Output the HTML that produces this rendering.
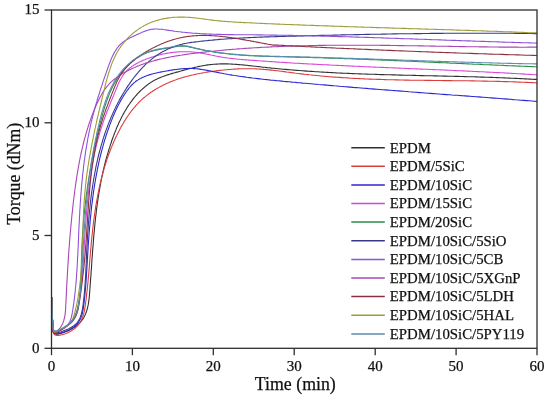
<!DOCTYPE html>
<html lang="en"><head><meta charset="utf-8"><title>Torque vs Time</title>
<style>
html,body{margin:0;padding:0;background:#fff;}
body{width:550px;height:398px;overflow:hidden;}
svg{display:block;}
text{font-family:"Liberation Serif",serif;fill:#111;stroke:#111;stroke-width:0.25px;}
.tk{font-size:15px;}
.lb{font-size:17.8px;}
.lg{font-size:14.8px;}
.ax{stroke:#2e2e2e;stroke-width:1.3;fill:none;}
.c{fill:none;stroke-width:1.1;stroke-linejoin:round;stroke-linecap:round;}
</style></head><body>
<svg width="550" height="398" viewBox="0 0 550 398">
<rect x="0" y="0" width="550" height="398" fill="#fff"/>

<g clip-path="url(#cp)">
<clipPath id="cp"><rect x="51" y="9" width="486" height="340"/></clipPath>
<path class="c" stroke="#303030" d="M51.6 297.0 L52.2 314.0 L52.9 327.1 L52.8 328.5 L52.8 329.7 L52.9 330.4 L52.9 330.8 L53.1 331.6 L53.4 332.3 L53.5 332.6 L53.8 332.9 L54.2 333.4 L54.8 333.7 L54.8 333.7 L55.3 333.9 L55.7 334.0 L56.2 334.1 L56.5 334.1 L56.7 334.1 L57.1 334.1 L57.6 334.0 L58.2 334.0 L58.5 333.9 L58.7 333.9 L59.2 333.8 L59.9 333.6 L60.7 333.4 L60.8 333.4 L61.8 333.1 L62.7 332.8 L63.0 332.7 L63.7 332.5 L64.7 332.1 L65.3 331.8 L65.7 331.7 L66.6 331.3 L67.6 330.9 L67.7 330.9 L68.6 330.4 L69.5 330.0 L69.9 329.8 L70.5 329.5 L71.4 329.0 L72.1 328.6 L72.3 328.5 L73.2 328.0 L74.0 327.4 L74.2 327.3 L74.9 326.9 L75.7 326.3 L76.1 326.0 L76.4 325.8 L77.0 325.3 L77.6 324.8 L78.0 324.5 L78.2 324.3 L78.7 323.8 L79.3 323.3 L79.6 323.0 L79.8 322.8 L80.3 322.3 L80.8 321.7 L81.1 321.3 L81.2 321.2 L81.6 320.7 L82.0 320.2 L82.4 319.7 L82.5 319.6 L82.8 319.2 L83.1 318.6 L83.5 318.1 L83.7 317.7 L83.8 317.5 L84.1 317.0 L84.3 316.5 L84.5 316.1 L84.7 315.8 L84.7 315.8 L84.9 315.4 L85.1 315.0 L85.3 314.6 L85.5 314.2 L85.6 313.8 L85.6 313.8 L85.8 313.4 L86.2 312.3 L86.4 311.7 L86.6 311.1 L87.0 309.9 L87.1 309.6 L87.3 308.7 L87.6 307.5 L87.6 307.4 L87.9 306.2 L88.1 305.2 L88.2 304.9 L88.4 303.6 L88.5 302.9 L88.6 302.3 L88.8 301.0 L88.8 300.6 L89.0 299.7 L89.1 298.3 L89.1 298.3 L89.3 297.0 L89.4 295.9 L89.4 295.6 L89.5 294.3 L89.6 293.5 L89.6 292.9 L89.7 291.6 L89.8 291.1 L89.8 290.0 L89.9 288.7 L90.1 286.4 L90.1 285.9 L90.3 284.0 L90.4 281.9 L90.5 281.6 L90.6 279.2 L90.7 277.9 L90.8 276.9 L91.0 274.5 L91.0 273.8 L91.1 272.1 L91.3 269.8 L91.3 269.8 L91.5 267.4 L91.6 265.8 L91.6 265.0 L91.8 262.7 L91.8 261.8 L91.9 260.3 L92.1 258.0 L92.1 257.8 L92.3 255.6 L92.5 253.3 L92.5 253.2 L92.6 250.9 L92.8 248.6 L93.0 246.4 L93.0 246.2 L93.2 243.9 L93.4 241.6 L93.5 239.6 L93.5 239.2 L93.7 236.9 L93.9 234.6 L94.1 232.8 L94.2 232.2 L94.4 229.9 L94.6 227.6 L94.7 226.0 L94.8 225.3 L95.0 223.0 L95.3 220.6 L95.4 219.3 L95.5 218.3 L95.8 216.0 L96.1 213.7 L96.2 212.6 L96.3 211.4 L96.6 209.1 L96.9 206.8 L97.0 205.9 L97.2 204.5 L97.5 202.2 L97.9 199.9 L98.0 199.2 L98.2 197.7 L98.6 195.4 L98.9 193.5 L98.9 193.1 L99.3 190.8 L99.5 189.8 L99.7 188.5 L100.1 186.3 L100.1 186.1 L100.5 184.0 L100.8 182.5 L100.9 181.7 L101.4 179.5 L101.5 178.8 L101.8 177.2 L102.3 175.1 L102.3 175.0 L102.8 172.7 L103.1 171.5 L103.3 170.5 L103.8 168.2 L103.9 167.8 L104.4 166.0 L104.8 164.2 L104.9 163.7 L105.5 161.5 L105.6 161.0 L106.1 159.2 L106.4 158.2 L106.7 157.0 L107.2 155.4 L107.3 154.8 L108.0 152.7 L108.0 152.6 L108.7 150.3 L108.8 149.9 L109.4 148.1 L109.7 147.2 L110.1 145.9 L110.5 144.4 L110.8 143.7 L111.5 141.7 L111.5 141.5 L112.3 139.3 L112.4 139.0 L113.1 137.0 L113.2 136.8 L113.9 135.1 L113.9 134.8 L114.5 133.3 L114.8 132.6 L115.2 131.6 L115.6 130.5 L115.9 129.9 L116.5 128.3 L116.6 128.1 L117.3 126.4 L117.5 126.1 L118.1 124.7 L118.4 124.0 L118.8 123.0 L119.4 121.8 L119.5 121.5 L120.2 120.2 L120.4 119.7 L120.9 118.8 L121.5 117.6 L121.5 117.4 L122.2 116.1 L122.5 115.5 L122.9 114.7 L123.7 113.4 L123.7 113.4 L124.4 112.1 L124.8 111.4 L125.2 110.8 L126.0 109.4 L126.0 109.4 L126.8 108.0 L127.2 107.4 L127.7 106.6 L128.5 105.4 L128.6 105.3 L129.5 104.0 L129.8 103.5 L130.4 102.6 L131.2 101.6 L131.4 101.3 L132.3 100.1 L132.6 99.7 L133.3 98.8 L134.0 97.9 L134.0 97.9 L134.8 97.0 L135.5 96.2 L135.5 96.1 L136.2 95.3 L137.0 94.5 L137.0 94.4 L137.7 93.6 L138.5 92.8 L138.6 92.7 L139.3 92.0 L140.1 91.2 L140.3 91.0 L140.9 90.4 L141.7 89.7 L142.0 89.4 L142.5 89.0 L143.3 88.2 L143.7 87.9 L144.1 87.5 L144.9 86.8 L145.5 86.4 L145.7 86.2 L146.6 85.5 L147.3 84.9 L147.5 84.8 L148.4 84.1 L149.2 83.5 L149.4 83.4 L150.4 82.8 L151.1 82.3 L151.4 82.1 L152.4 81.5 L153.1 81.0 L153.4 80.9 L154.4 80.3 L155.1 79.9 L155.4 79.8 L156.4 79.2 L157.2 78.9 L157.4 78.8 L158.4 78.3 L159.3 77.9 L159.4 77.9 L160.4 77.4 L161.4 77.0 L161.4 77.0 L162.4 76.7 L163.4 76.3 L163.6 76.2 L164.5 75.9 L165.5 75.6 L165.8 75.5 L166.5 75.2 L167.5 74.9 L168.0 74.8 L168.6 74.6 L169.6 74.3 L170.2 74.1 L170.7 73.9 L171.7 73.6 L172.5 73.4 L172.7 73.3 L173.8 73.0 L174.7 72.8 L174.8 72.7 L175.8 72.4 L176.8 72.1 L177.0 72.1 L177.9 71.9 L178.9 71.6 L179.2 71.5 L179.9 71.3 L180.9 71.0 L181.5 70.8 L182.0 70.7 L183.0 70.4 L183.8 70.2 L184.0 70.1 L185.0 69.8 L186.0 69.6 L186.0 69.6 L187.1 69.3 L188.1 69.0 L188.3 69.0 L189.1 68.8 L190.1 68.5 L190.6 68.4 L191.2 68.2 L192.2 68.0 L192.9 67.8 L193.1 67.8 L194.0 67.6 L194.8 67.4 L195.2 67.3 L195.7 67.2 L196.6 67.0 L197.4 66.8 L197.5 66.8 L198.3 66.6 L199.2 66.4 L199.7 66.3 L200.0 66.2 L201.3 66.0 L202.0 65.9 L202.6 65.8 L203.9 65.5 L204.3 65.5 L205.2 65.3 L206.6 65.1 L206.6 65.1 L207.9 64.9 L208.9 64.8 L209.2 64.8 L210.5 64.6 L211.2 64.5 L211.8 64.5 L213.5 64.3 L213.6 64.3 L215.4 64.2 L215.8 64.1 L217.1 64.1 L218.2 64.0 L218.9 64.0 L220.5 63.9 L220.7 63.9 L222.4 63.9 L222.8 63.9 L224.2 63.9 L225.1 63.9 L226.0 63.9 L227.4 63.9 L227.7 63.9 L229.1 64.0 L229.7 64.0 L230.5 64.0 L231.9 64.1 L232.0 64.1 L233.3 64.2 L234.3 64.2 L234.7 64.3 L236.1 64.4 L236.7 64.4 L237.5 64.5 L238.9 64.6 L239.0 64.6 L240.2 64.7 L241.3 64.8 L241.3 64.8 L242.5 64.9 L243.6 65.0 L243.6 65.0 L244.7 65.1 L245.9 65.2 L245.9 65.2 L247.0 65.3 L248.1 65.5 L248.3 65.5 L249.3 65.6 L250.5 65.7 L250.6 65.7 L251.8 65.9 L252.9 66.0 L253.2 66.0 L254.6 66.2 L255.2 66.3 L255.9 66.3 L257.3 66.5 L257.6 66.5 L258.6 66.6 L259.9 66.8 L260.0 66.8 L261.4 67.0 L262.2 67.1 L264.2 67.3 L264.5 67.3 L266.9 67.6 L268.5 67.7 L269.2 67.8 L271.5 68.1 L272.8 68.2 L273.8 68.3 L276.2 68.5 L277.1 68.6 L278.5 68.7 L280.8 69.0 L281.4 69.0 L283.1 69.2 L285.5 69.4 L285.6 69.4 L287.8 69.6 L289.9 69.8 L290.1 69.8 L292.4 70.0 L294.2 70.1 L294.8 70.2 L297.1 70.4 L298.5 70.5 L299.4 70.5 L301.7 70.7 L302.9 70.8 L304.1 70.9 L306.4 71.1 L307.4 71.1 L308.7 71.2 L311.0 71.4 L311.9 71.4 L313.4 71.5 L315.7 71.7 L316.4 71.7 L318.0 71.8 L320.3 72.0 L320.9 72.0 L322.7 72.1 L325.0 72.2 L325.4 72.3 L327.3 72.4 L329.7 72.5 L329.9 72.5 L332.0 72.6 L334.3 72.7 L334.4 72.7 L336.6 72.9 L338.9 73.0 L339.0 73.0 L341.3 73.1 L343.6 73.2 L345.9 73.3 L348.3 73.4 L348.5 73.4 L350.6 73.5 L352.9 73.6 L355.3 73.7 L357.6 73.8 L359.8 73.9 L359.9 73.9 L362.2 74.0 L364.6 74.0 L366.9 74.1 L369.2 74.2 L371.1 74.3 L371.6 74.3 L373.9 74.3 L376.2 74.4 L378.5 74.5 L380.9 74.6 L382.3 74.6 L383.2 74.6 L385.5 74.7 L387.9 74.8 L390.2 74.8 L392.5 74.9 L393.6 74.9 L394.8 74.9 L397.2 75.0 L399.5 75.1 L401.8 75.1 L404.2 75.2 L404.8 75.2 L406.5 75.2 L408.8 75.3 L411.2 75.3 L413.5 75.4 L415.8 75.4 L416.1 75.5 L418.1 75.5 L420.5 75.6 L422.8 75.6 L425.1 75.7 L427.4 75.7 L427.5 75.7 L429.8 75.8 L432.1 75.8 L434.5 75.9 L436.8 75.9 L438.6 76.0 L439.1 76.0 L441.4 76.0 L443.8 76.1 L446.1 76.1 L448.4 76.2 L449.6 76.2 L450.8 76.2 L453.1 76.3 L455.4 76.4 L457.8 76.4 L460.1 76.5 L460.5 76.5 L462.4 76.5 L464.8 76.6 L467.1 76.7 L469.4 76.7 L471.4 76.8 L471.7 76.8 L474.1 76.8 L476.4 76.9 L478.7 77.0 L481.1 77.1 L482.4 77.1 L483.4 77.1 L485.7 77.2 L488.1 77.3 L490.4 77.4 L492.7 77.4 L493.3 77.5 L495.1 77.5 L497.4 77.6 L499.7 77.7 L502.0 77.8 L504.2 77.9 L504.4 77.9 L506.7 78.0 L509.0 78.1 L511.4 78.2 L513.7 78.3 L515.1 78.4 L516.0 78.4 L518.4 78.5 L520.7 78.6 L523.0 78.7 L525.4 78.9 L526.1 78.9 L527.7 79.0 L530.0 79.1 L532.3 79.3 L534.7 79.4 L537.0 79.5"/>
<path class="c" stroke="#dc3c3c" d="M51.6 297.0 L52.2 314.0 L52.9 327.2 L52.8 328.9 L52.8 330.3 L52.8 330.8 L52.9 331.5 L53.2 332.6 L53.5 333.3 L53.6 333.4 L54.0 334.1 L54.6 334.6 L54.7 334.7 L55.2 335.0 L55.9 335.2 L56.3 335.3 L56.5 335.3 L56.7 335.4 L57.1 335.4 L57.5 335.4 L57.9 335.4 L58.4 335.4 L58.5 335.4 L58.8 335.3 L59.3 335.3 L59.8 335.2 L60.7 335.0 L60.8 335.0 L61.6 334.8 L62.6 334.6 L63.2 334.4 L63.5 334.3 L64.5 334.0 L65.4 333.7 L65.7 333.6 L66.4 333.3 L67.3 332.9 L68.2 332.5 L68.3 332.4 L69.5 331.8 L70.6 331.2 L70.7 331.2 L71.8 330.5 L72.8 329.8 L73.0 329.7 L73.9 329.1 L74.9 328.3 L75.2 328.1 L75.9 327.4 L76.8 326.6 L77.1 326.3 L77.7 325.7 L78.5 324.6 L78.8 324.3 L79.3 323.6 L80.1 322.5 L80.2 322.3 L80.7 321.4 L81.3 320.3 L81.4 320.1 L81.9 319.1 L82.4 317.9 L82.4 317.9 L82.8 316.7 L83.2 315.5 L83.2 315.5 L83.6 314.2 L83.8 313.2 L83.9 313.0 L84.2 311.7 L84.4 310.7 L84.4 310.4 L84.7 309.1 L84.8 308.3 L84.9 307.8 L85.1 306.5 L85.2 305.8 L85.3 305.1 L85.5 303.6 L85.6 303.3 L85.7 302.0 L85.9 300.8 L86.0 300.4 L86.2 298.7 L86.2 298.2 L86.4 297.1 L86.5 295.7 L86.6 295.5 L86.7 293.8 L86.8 293.2 L86.9 292.2 L87.1 290.7 L87.1 290.6 L87.4 288.2 L87.4 287.3 L87.6 285.7 L87.8 283.4 L87.9 283.2 L88.1 280.6 L88.2 279.5 L88.3 278.1 L88.5 275.6 L88.5 275.5 L88.8 273.1 L88.9 271.6 L89.0 270.5 L89.2 268.0 L89.2 267.7 L89.4 265.5 L89.5 263.7 L89.6 262.9 L89.8 260.4 L89.8 259.8 L90.0 257.9 L90.2 255.8 L90.2 255.3 L90.4 252.8 L90.6 250.3 L90.7 249.6 L90.9 247.7 L91.1 245.2 L91.3 242.8 L91.3 242.7 L91.6 240.1 L91.8 237.6 L92.0 236.0 L92.1 235.1 L92.4 232.5 L92.6 230.0 L92.7 229.2 L92.9 227.5 L93.2 225.0 L93.5 222.4 L93.5 222.4 L93.8 219.9 L94.2 217.4 L94.4 215.7 L94.5 214.9 L94.9 212.4 L95.3 209.8 L95.4 208.9 L95.6 207.3 L96.0 204.8 L96.5 202.3 L96.5 202.2 L96.9 199.8 L97.4 197.3 L97.7 195.5 L97.8 194.9 L98.3 192.4 L98.5 191.5 L98.8 189.9 L99.3 187.8 L99.3 187.4 L99.9 185.0 L100.1 184.0 L100.5 182.5 L101.0 180.3 L101.0 180.1 L101.6 177.6 L101.9 176.7 L102.3 175.2 L102.9 173.0 L102.9 172.7 L103.6 170.3 L103.9 169.3 L104.3 167.9 L105.0 165.7 L105.0 165.5 L105.8 163.1 L106.1 162.1 L106.6 160.7 L107.0 159.3 L107.4 158.3 L108.0 156.6 L108.2 155.9 L109.0 153.8 L109.1 153.5 L109.9 151.2 L110.0 151.1 L110.9 148.8 L111.0 148.4 L111.8 146.5 L112.1 145.7 L112.8 144.2 L113.3 143.0 L113.8 141.8 L114.5 140.3 L114.8 139.5 L115.6 137.8 L115.9 137.2 L116.0 137.0 L116.4 136.2 L116.8 135.4 L117.0 134.9 L117.2 134.5 L117.6 133.7 L118.0 132.9 L118.1 132.7 L118.4 132.1 L118.8 131.3 L119.3 130.4 L119.3 130.4 L119.9 129.2 L120.5 128.1 L120.5 128.1 L121.1 126.9 L121.7 125.9 L121.8 125.8 L122.4 124.7 L123.0 123.7 L123.1 123.6 L123.7 122.4 L124.3 121.5 L124.4 121.3 L125.1 120.1 L125.7 119.3 L126.0 118.7 L126.9 117.3 L127.1 117.1 L127.9 116.0 L128.5 115.0 L128.8 114.6 L129.7 113.3 L130.0 113.0 L130.7 112.0 L131.5 110.9 L131.7 110.7 L132.7 109.4 L133.1 108.9 L133.6 108.3 L134.3 107.4 L134.7 107.0 L135.1 106.6 L135.8 105.7 L136.4 105.1 L136.5 104.9 L137.3 104.1 L138.0 103.3 L138.1 103.2 L138.8 102.5 L139.6 101.7 L139.9 101.4 L140.4 100.9 L141.2 100.2 L141.7 99.7 L142.0 99.4 L142.8 98.7 L143.6 98.0 L143.6 98.0 L144.5 97.3 L145.3 96.6 L145.5 96.4 L146.2 95.9 L147.0 95.2 L147.5 94.9 L148.0 94.5 L148.9 93.8 L149.5 93.4 L149.9 93.0 L150.9 92.3 L151.5 91.9 L151.9 91.7 L152.9 91.0 L153.6 90.5 L154.0 90.3 L155.0 89.7 L155.8 89.2 L156.0 89.1 L157.0 88.5 L158.0 87.9 L158.0 87.9 L159.0 87.4 L160.0 86.8 L160.2 86.7 L161.0 86.3 L162.0 85.8 L162.4 85.5 L163.0 85.2 L164.0 84.7 L164.7 84.4 L165.0 84.3 L166.0 83.8 L167.0 83.3 L167.0 83.3 L168.0 82.9 L169.0 82.5 L169.3 82.3 L170.0 82.0 L171.0 81.6 L171.6 81.4 L172.1 81.2 L173.1 80.8 L174.0 80.5 L174.1 80.4 L175.1 80.0 L176.1 79.7 L176.4 79.6 L177.1 79.3 L178.1 79.0 L178.8 78.8 L179.1 78.6 L180.2 78.3 L181.2 78.0 L181.2 78.0 L182.2 77.7 L183.2 77.4 L183.6 77.3 L184.2 77.1 L185.2 76.8 L186.0 76.6 L186.3 76.5 L187.3 76.2 L188.3 76.0 L188.5 75.9 L189.3 75.7 L190.4 75.4 L191.0 75.3 L191.4 75.2 L192.4 75.0 L193.3 74.8 L193.4 74.7 L194.1 74.6 L195.0 74.4 L195.8 74.2 L195.9 74.2 L196.7 74.0 L197.6 73.8 L198.4 73.7 L198.5 73.7 L199.3 73.5 L200.5 73.3 L200.9 73.2 L202.7 72.9 L203.4 72.7 L204.9 72.5 L205.9 72.3 L207.1 72.1 L208.4 71.9 L209.3 71.8 L211.0 71.6 L211.5 71.5 L213.5 71.2 L213.7 71.2 L215.9 70.9 L216.0 70.9 L218.1 70.6 L218.5 70.6 L220.2 70.4 L221.0 70.3 L222.0 70.2 L223.6 70.0 L223.8 70.0 L225.6 69.8 L226.1 69.8 L227.3 69.7 L228.6 69.5 L229.1 69.5 L230.9 69.4 L231.1 69.3 L232.7 69.2 L233.6 69.2 L234.5 69.1 L236.2 69.0 L236.2 69.0 L237.8 68.9 L238.7 68.9 L239.4 68.8 L241.1 68.8 L241.2 68.8 L242.7 68.7 L243.7 68.7 L244.3 68.7 L245.9 68.7 L246.2 68.7 L247.5 68.7 L248.7 68.7 L249.2 68.7 L250.7 68.7 L251.3 68.7 L252.0 68.7 L253.3 68.8 L253.8 68.8 L254.7 68.8 L256.0 68.9 L256.3 68.9 L257.4 69.0 L258.7 69.0 L258.8 69.0 L260.1 69.1 L261.3 69.2 L261.4 69.2 L263.8 69.4 L264.5 69.5 L266.4 69.6 L268.8 69.8 L268.9 69.9 L271.4 70.1 L273.1 70.3 L273.9 70.4 L276.4 70.7 L277.3 70.8 L278.9 71.0 L281.5 71.3 L281.6 71.3 L284.0 71.6 L285.9 71.9 L286.5 72.0 L289.0 72.3 L290.2 72.4 L291.5 72.6 L294.1 72.9 L294.4 73.0 L296.6 73.3 L298.7 73.5 L299.1 73.6 L301.6 73.9 L303.2 74.1 L304.1 74.2 L306.7 74.5 L307.6 74.6 L309.2 74.8 L311.7 75.0 L312.1 75.1 L314.2 75.3 L316.6 75.5 L316.8 75.5 L319.3 75.8 L321.1 76.0 L321.8 76.0 L324.3 76.2 L325.6 76.4 L326.9 76.5 L329.4 76.7 L330.1 76.7 L331.9 76.9 L334.4 77.1 L334.6 77.1 L337.0 77.3 L339.1 77.4 L339.5 77.4 L342.0 77.6 L344.6 77.8 L347.1 77.9 L349.0 78.0 L349.6 78.1 L352.1 78.2 L354.7 78.4 L357.2 78.5 L359.7 78.6 L360.2 78.7 L362.3 78.7 L364.8 78.9 L367.3 79.0 L369.8 79.1 L371.4 79.1 L372.4 79.2 L374.9 79.3 L377.4 79.4 L380.0 79.4 L382.5 79.5 L382.7 79.5 L385.0 79.6 L387.6 79.7 L390.1 79.7 L392.6 79.8 L393.9 79.8 L395.2 79.9 L397.7 79.9 L400.2 80.0 L402.8 80.0 L405.1 80.1 L405.3 80.1 L407.8 80.1 L410.4 80.2 L412.9 80.2 L415.4 80.2 L416.4 80.3 L418.0 80.3 L420.5 80.3 L423.0 80.3 L425.6 80.4 L427.6 80.4 L428.1 80.4 L430.6 80.4 L433.2 80.5 L435.7 80.5 L438.2 80.5 L438.9 80.5 L440.8 80.5 L443.3 80.6 L445.8 80.6 L448.4 80.6 L449.8 80.6 L450.9 80.6 L453.4 80.7 L456.0 80.7 L458.5 80.7 L460.7 80.8 L461.0 80.8 L463.6 80.8 L466.1 80.8 L468.6 80.8 L471.2 80.9 L471.6 80.9 L473.7 80.9 L476.2 81.0 L478.8 81.0 L481.3 81.0 L482.5 81.1 L483.8 81.1 L486.4 81.1 L488.9 81.2 L491.4 81.2 L493.4 81.3 L494.0 81.3 L496.5 81.4 L499.0 81.4 L501.6 81.5 L504.1 81.6 L504.3 81.6 L506.6 81.6 L509.2 81.7 L511.7 81.8 L514.2 81.9 L515.2 81.9 L516.8 82.0 L519.3 82.1 L521.8 82.2 L524.4 82.3 L526.1 82.4 L526.9 82.4 L529.4 82.5 L531.9 82.6 L534.5 82.8 L537.0 82.9"/>
<path class="c" stroke="#2828d2" d="M51.6 297.0 L52.2 314.0 L52.9 327.3 L52.8 328.6 L52.9 329.7 L53.0 330.7 L53.0 330.7 L53.2 331.4 L53.5 332.1 L53.9 332.6 L54.0 332.7 L54.4 333.0 L54.9 333.3 L55.4 333.5 L55.6 333.6 L55.8 333.6 L56.3 333.7 L56.7 333.7 L57.2 333.7 L57.6 333.7 L57.7 333.7 L58.2 333.6 L58.7 333.5 L59.2 333.4 L59.8 333.3 L60.0 333.2 L60.7 333.1 L61.6 332.8 L62.5 332.5 L62.5 332.5 L63.5 332.2 L64.5 331.9 L65.1 331.6 L65.4 331.5 L66.4 331.1 L67.3 330.7 L67.8 330.5 L68.3 330.2 L69.5 329.7 L70.3 329.2 L70.6 329.0 L71.7 328.4 L72.7 327.7 L72.8 327.6 L73.7 327.0 L74.7 326.2 L75.0 325.9 L75.6 325.4 L76.5 324.6 L77.0 324.0 L77.3 323.7 L77.9 322.9 L78.5 322.1 L78.6 322.0 L79.1 321.3 L79.6 320.4 L80.0 319.8 L80.1 319.5 L80.5 318.6 L80.9 317.7 L81.0 317.4 L81.3 316.7 L81.7 315.7 L81.9 315.0 L82.0 314.5 L82.4 313.2 L82.5 312.5 L82.6 311.9 L82.9 310.7 L83.0 309.9 L83.1 309.4 L83.3 308.1 L83.5 307.2 L83.5 306.8 L83.7 305.4 L83.8 304.6 L83.9 304.0 L84.1 302.4 L84.1 301.9 L84.3 300.7 L84.4 299.3 L84.4 299.1 L84.6 297.5 L84.7 296.6 L84.8 295.8 L85.0 294.2 L85.0 294.0 L85.1 292.5 L85.2 291.3 L85.3 290.9 L85.5 288.6 L85.5 288.2 L85.7 286.0 L85.8 284.3 L85.9 283.3 L86.1 280.6 L86.1 280.3 L86.3 278.0 L86.4 276.4 L86.4 275.3 L86.6 272.6 L86.6 272.5 L86.8 270.0 L86.9 268.5 L86.9 267.3 L87.1 264.6 L87.1 264.6 L87.3 261.9 L87.3 260.7 L87.4 259.3 L87.6 256.8 L87.6 256.6 L87.7 253.9 L87.9 251.3 L87.9 251.3 L88.1 248.6 L88.2 245.9 L88.3 244.5 L88.4 243.2 L88.6 240.6 L88.8 237.9 L88.8 237.8 L89.0 235.2 L89.2 232.6 L89.3 231.0 L89.4 229.9 L89.6 227.2 L89.9 224.5 L89.9 224.3 L90.1 221.9 L90.3 219.2 L90.5 217.6 L90.6 216.5 L90.9 213.9 L91.1 211.2 L91.2 210.9 L91.4 208.6 L91.7 205.9 L91.9 204.2 L92.1 203.3 L92.4 200.6 L92.7 197.9 L92.8 197.5 L93.1 195.3 L93.4 192.7 L93.4 192.6 L93.8 190.0 L94.0 188.9 L94.2 187.4 L94.6 185.2 L94.6 184.7 L95.1 182.1 L95.2 181.5 L95.5 179.5 L95.8 177.9 L96.0 176.9 L96.5 174.2 L96.5 174.2 L97.0 171.6 L97.2 170.5 L97.5 169.0 L97.9 166.9 L98.0 166.4 L98.6 163.8 L98.7 163.2 L99.1 161.2 L99.4 160.2 L99.7 158.6 L100.0 157.4 L100.4 156.0 L100.7 154.7 L101.0 153.5 L101.4 151.9 L101.7 150.9 L102.1 149.2 L102.4 148.3 L102.9 146.4 L103.1 145.7 L103.6 143.7 L103.8 143.2 L104.4 141.0 L104.5 140.6 L105.3 138.3 L105.3 138.1 L105.9 136.3 L106.1 135.5 L106.4 134.6 L107.0 133.0 L107.0 132.9 L107.6 131.2 L107.8 130.5 L108.2 129.5 L108.7 127.9 L108.8 127.8 L109.4 126.1 L109.6 125.4 L110.0 124.4 L110.6 122.9 L110.6 122.7 L111.3 120.9 L111.5 120.4 L112.0 119.2 L112.5 117.9 L112.7 117.4 L113.5 115.6 L113.5 115.4 L114.2 113.9 L114.6 113.0 L115.0 112.1 L115.7 110.5 L115.8 110.4 L116.6 108.6 L116.9 108.1 L117.4 106.9 L118.0 105.7 L118.3 105.2 L119.1 103.6 L119.3 103.3 L120.0 102.0 L120.6 100.9 L120.9 100.4 L121.8 98.8 L121.9 98.6 L122.8 97.2 L123.3 96.3 L123.7 95.6 L124.7 94.0 L124.8 94.0 L125.8 92.5 L126.3 91.8 L126.6 91.3 L127.4 90.2 L127.9 89.6 L128.2 89.1 L129.0 88.1 L129.5 87.5 L129.9 87.0 L130.8 86.0 L131.3 85.5 L131.7 85.0 L132.7 84.0 L133.2 83.6 L133.6 83.2 L134.3 82.6 L135.0 82.1 L135.1 81.9 L135.6 81.5 L136.3 81.0 L137.0 80.5 L137.2 80.4 L137.7 80.1 L138.4 79.6 L139.2 79.2 L139.4 79.0 L139.9 78.8 L140.7 78.4 L141.4 78.0 L141.7 77.8 L142.2 77.6 L143.0 77.2 L143.8 76.9 L144.1 76.7 L144.6 76.5 L145.4 76.2 L146.3 75.9 L146.6 75.8 L147.1 75.6 L148.1 75.2 L149.1 74.9 L149.1 74.9 L150.1 74.6 L151.1 74.3 L151.7 74.1 L152.2 74.0 L153.2 73.7 L154.2 73.5 L154.3 73.5 L155.3 73.2 L156.3 73.0 L156.9 72.9 L157.3 72.8 L158.4 72.5 L159.4 72.3 L159.6 72.3 L160.4 72.1 L161.5 71.9 L162.3 71.8 L162.5 71.7 L163.5 71.5 L164.6 71.3 L165.0 71.3 L165.6 71.2 L166.6 71.0 L167.7 70.8 L167.7 70.8 L168.7 70.6 L169.7 70.4 L170.3 70.3 L170.7 70.3 L171.8 70.1 L172.8 69.9 L173.0 69.9 L173.8 69.8 L174.8 69.6 L175.6 69.5 L175.8 69.5 L176.8 69.4 L177.8 69.2 L178.3 69.2 L178.8 69.1 L179.8 69.0 L180.8 68.9 L180.9 68.9 L181.8 68.8 L182.8 68.7 L183.6 68.7 L183.8 68.6 L184.9 68.6 L185.9 68.5 L186.2 68.5 L186.9 68.5 L187.9 68.5 L188.8 68.4 L188.9 68.4 L189.9 68.4 L190.9 68.5 L191.4 68.5 L191.9 68.5 L192.8 68.5 L193.6 68.6 L194.1 68.6 L194.5 68.6 L195.3 68.7 L196.2 68.8 L196.7 68.8 L197.0 68.8 L197.8 68.9 L198.7 69.0 L199.3 69.1 L199.5 69.1 L201.1 69.4 L202.0 69.5 L203.1 69.7 L204.6 69.9 L205.1 70.0 L207.1 70.4 L207.2 70.4 L209.2 70.8 L209.9 70.9 L211.2 71.2 L212.5 71.4 L213.2 71.6 L215.2 72.0 L215.3 72.0 L217.3 72.4 L217.8 72.5 L219.6 72.9 L220.4 73.0 L222.1 73.3 L223.1 73.5 L224.5 73.8 L225.7 74.0 L227.0 74.2 L228.4 74.5 L229.5 74.7 L231.0 74.9 L231.9 75.1 L233.6 75.3 L234.4 75.5 L236.3 75.8 L236.9 75.8 L238.9 76.2 L239.4 76.2 L241.6 76.5 L244.1 76.9 L244.2 76.9 L246.9 77.3 L249.5 77.6 L249.7 77.6 L252.2 78.0 L254.8 78.3 L255.3 78.3 L257.5 78.6 L260.1 78.9 L260.9 79.0 L262.8 79.2 L265.4 79.5 L266.5 79.6 L268.1 79.8 L270.7 80.1 L272.1 80.2 L273.4 80.3 L276.0 80.6 L277.7 80.7 L278.7 80.8 L281.4 81.1 L283.3 81.3 L284.0 81.4 L286.7 81.6 L288.9 81.8 L289.3 81.8 L292.0 82.1 L294.5 82.3 L294.6 82.3 L297.3 82.6 L300.0 82.8 L300.0 82.8 L302.6 83.1 L305.3 83.3 L305.6 83.3 L307.9 83.5 L310.6 83.8 L311.2 83.8 L313.3 84.0 L315.9 84.2 L316.8 84.3 L318.6 84.5 L321.2 84.7 L322.4 84.8 L323.9 84.9 L326.6 85.1 L328.0 85.3 L329.2 85.4 L331.9 85.6 L333.6 85.7 L334.5 85.8 L337.2 86.0 L339.2 86.2 L339.9 86.3 L342.5 86.5 L345.2 86.7 L347.8 86.9 L349.6 87.1 L350.5 87.1 L353.2 87.4 L355.8 87.6 L358.5 87.8 L360.8 88.0 L361.2 88.0 L363.8 88.2 L366.5 88.4 L369.2 88.7 L371.8 88.9 L372.0 88.9 L374.5 89.1 L377.1 89.3 L379.8 89.5 L382.5 89.7 L383.2 89.8 L385.1 89.9 L387.8 90.1 L390.5 90.3 L393.1 90.5 L394.4 90.6 L395.8 90.7 L398.5 90.9 L401.1 91.1 L403.8 91.3 L405.6 91.5 L406.5 91.5 L409.1 91.8 L411.8 92.0 L414.5 92.2 L416.8 92.3 L417.1 92.4 L419.8 92.6 L422.4 92.8 L425.1 93.0 L427.8 93.2 L428.0 93.2 L430.4 93.4 L433.1 93.6 L435.8 93.8 L438.4 94.0 L439.2 94.0 L441.1 94.2 L443.8 94.4 L446.4 94.6 L449.1 94.8 L450.1 94.8 L451.8 95.0 L454.4 95.2 L457.1 95.3 L459.8 95.5 L461.0 95.6 L462.4 95.7 L465.1 95.9 L467.8 96.1 L470.4 96.3 L471.9 96.5 L473.1 96.5 L475.8 96.7 L478.4 96.9 L481.1 97.1 L482.7 97.3 L483.7 97.3 L486.4 97.5 L489.1 97.7 L491.7 97.9 L493.6 98.1 L494.4 98.1 L497.1 98.3 L499.7 98.5 L502.4 98.7 L504.4 98.9 L505.1 98.9 L507.7 99.1 L510.4 99.3 L513.0 99.6 L515.3 99.7 L515.7 99.8 L518.4 100.0 L521.0 100.2 L523.7 100.4 L526.1 100.6 L526.4 100.6 L529.0 100.8 L531.7 101.0 L534.3 101.2 L537.0 101.4"/>
<path class="c" stroke="#d846d8" d="M51.6 297.0 L52.2 314.0 L52.9 327.2 L53.0 328.4 L53.1 329.4 L53.2 330.2 L53.3 330.6 L53.4 330.9 L53.7 331.5 L54.0 331.9 L54.4 332.1 L54.4 332.2 L54.8 332.3 L55.3 332.4 L55.7 332.4 L56.0 332.4 L56.2 332.3 L56.7 332.2 L57.2 332.0 L57.7 331.8 L58.0 331.7 L58.2 331.6 L58.7 331.3 L59.3 331.0 L59.9 330.6 L60.1 330.5 L60.6 330.2 L61.3 329.8 L62.1 329.3 L62.2 329.2 L62.8 328.9 L63.6 328.4 L64.3 327.9 L64.4 327.8 L65.0 327.4 L65.7 326.9 L66.5 326.3 L66.5 326.3 L67.2 325.7 L68.0 325.1 L68.5 324.7 L68.7 324.5 L69.5 323.8 L70.2 323.1 L70.3 323.0 L70.8 322.5 L71.5 321.7 L72.0 321.1 L72.1 321.0 L72.7 320.2 L73.3 319.4 L73.4 319.2 L73.8 318.6 L74.3 317.7 L74.7 317.1 L74.8 316.8 L75.3 315.9 L75.7 315.0 L75.7 314.9 L76.0 314.0 L76.4 313.1 L76.5 312.7 L76.8 312.0 L77.1 310.8 L77.3 310.3 L77.5 309.6 L77.8 308.4 L77.9 308.0 L78.0 307.2 L78.3 306.0 L78.4 305.5 L78.5 304.7 L78.7 303.5 L78.8 303.1 L79.0 302.3 L79.2 301.0 L79.2 300.6 L79.4 299.7 L79.6 298.4 L79.6 298.2 L79.8 297.0 L80.0 295.7 L80.0 295.7 L80.2 294.4 L80.3 293.3 L80.3 293.1 L80.5 291.8 L80.6 290.8 L80.7 290.5 L80.9 288.4 L81.0 287.4 L81.2 286.0 L81.5 283.5 L81.5 283.5 L81.7 281.1 L81.9 279.6 L82.0 278.6 L82.2 276.2 L82.2 275.7 L82.4 273.7 L82.5 271.7 L82.6 271.3 L82.8 268.8 L82.8 267.8 L82.9 266.4 L83.1 263.9 L83.1 263.9 L83.3 261.5 L83.4 259.9 L83.4 259.0 L83.6 256.6 L83.6 256.0 L83.8 254.1 L83.9 251.6 L84.0 250.0 L84.1 249.2 L84.2 246.7 L84.4 244.3 L84.4 243.2 L84.5 241.8 L84.7 239.3 L84.8 236.9 L84.9 236.5 L85.0 234.4 L85.1 231.9 L85.3 229.7 L85.3 229.5 L85.5 227.0 L85.6 224.5 L85.8 223.0 L85.8 222.1 L86.0 219.6 L86.2 217.1 L86.3 216.2 L86.4 214.7 L86.6 212.2 L86.8 209.8 L86.8 209.5 L87.0 207.3 L87.2 204.8 L87.4 202.7 L87.4 202.4 L87.7 199.9 L87.9 197.5 L88.1 196.0 L88.2 195.0 L88.4 192.6 L88.5 191.8 L88.7 190.1 L88.9 188.1 L89.0 187.7 L89.3 185.2 L89.4 184.4 L89.6 182.8 L89.9 180.7 L89.9 180.3 L90.3 177.9 L90.4 177.0 L90.6 175.5 L90.9 173.3 L91.0 173.0 L91.4 170.6 L91.5 169.7 L91.8 168.2 L92.1 166.0 L92.2 165.8 L92.6 163.3 L92.8 162.3 L93.1 160.9 L93.3 159.5 L93.5 158.5 L93.9 156.7 L94.0 156.1 L94.5 153.9 L94.5 153.7 L95.0 151.3 L95.1 151.1 L95.6 148.9 L95.7 148.4 L96.1 146.5 L96.3 145.6 L96.7 144.2 L97.0 142.8 L97.3 141.8 L97.7 140.1 L97.9 139.4 L98.5 137.4 L98.6 137.1 L98.9 135.7 L99.2 134.7 L99.4 134.0 L99.9 132.3 L99.9 132.3 L100.4 130.7 L100.6 130.0 L100.9 129.0 L101.3 127.7 L101.4 127.3 L102.0 125.7 L102.1 125.3 L102.5 124.0 L102.9 123.0 L103.1 122.3 L103.7 120.7 L103.7 120.6 L104.4 118.8 L104.5 118.3 L105.0 117.0 L105.4 116.0 L105.7 115.3 L106.2 113.7 L106.3 113.5 L107.0 111.8 L107.1 111.4 L107.7 110.0 L108.0 109.1 L108.4 108.2 L108.9 106.8 L109.1 106.5 L109.8 104.7 L109.9 104.5 L110.5 102.9 L110.8 102.2 L111.3 101.1 L111.7 99.9 L112.0 99.3 L112.7 97.6 L112.7 97.5 L113.5 95.7 L113.6 95.3 L114.2 93.9 L114.6 93.0 L115.0 92.0 L115.5 90.6 L115.6 90.4 L116.1 89.2 L116.5 88.3 L116.6 88.0 L117.1 86.8 L117.4 86.0 L117.6 85.6 L118.1 84.4 L118.4 83.7 L118.6 83.2 L119.2 82.1 L119.5 81.5 L119.7 80.9 L120.2 80.0 L120.6 79.3 L120.6 79.2 L121.1 78.5 L121.5 77.7 L121.8 77.2 L121.9 77.0 L122.4 76.3 L122.8 75.6 L123.1 75.1 L123.3 74.9 L123.8 74.2 L124.3 73.6 L124.6 73.2 L124.8 73.0 L125.3 72.4 L125.9 71.8 L126.2 71.4 L126.4 71.2 L127.0 70.6 L127.6 70.0 L127.9 69.8 L128.2 69.5 L128.8 68.9 L129.5 68.3 L129.7 68.2 L130.3 67.7 L131.1 67.1 L131.6 66.7 L131.9 66.5 L132.8 65.9 L133.6 65.3 L133.6 65.3 L134.5 64.8 L135.4 64.2 L135.7 64.1 L136.3 63.7 L137.1 63.3 L137.8 62.9 L137.8 62.9 L138.6 62.5 L139.3 62.1 L140.1 61.7 L140.1 61.7 L140.9 61.4 L141.6 61.0 L142.3 60.7 L142.4 60.7 L143.2 60.3 L143.9 60.0 L144.7 59.7 L144.7 59.7 L145.4 59.4 L146.2 59.1 L146.9 58.8 L147.0 58.8 L147.6 58.6 L148.4 58.3 L149.1 58.0 L149.4 57.9 L149.9 57.8 L150.7 57.5 L151.5 57.2 L151.8 57.1 L152.3 57.0 L153.1 56.7 L153.9 56.5 L154.2 56.4 L154.7 56.2 L155.5 56.0 L156.3 55.7 L156.5 55.7 L157.1 55.5 L158.6 55.1 L158.9 55.0 L160.2 54.7 L161.4 54.4 L161.7 54.4 L163.2 54.0 L163.8 53.9 L164.8 53.7 L166.2 53.4 L166.3 53.4 L167.9 53.1 L168.6 53.0 L169.4 52.9 L170.9 52.6 L171.0 52.6 L172.5 52.4 L173.5 52.3 L174.0 52.3 L175.5 52.1 L175.9 52.1 L177.0 52.0 L178.3 51.9 L178.5 51.9 L180.0 51.8 L180.8 51.7 L181.5 51.7 L183.0 51.7 L183.2 51.7 L184.5 51.7 L185.7 51.7 L185.8 51.7 L187.1 51.7 L188.1 51.7 L188.4 51.7 L189.6 51.8 L190.5 51.8 L190.9 51.9 L192.2 52.0 L193.0 52.0 L193.5 52.1 L194.8 52.2 L195.4 52.3 L196.0 52.3 L197.1 52.5 L197.8 52.6 L198.1 52.6 L199.2 52.8 L200.3 53.0 L200.3 53.0 L201.3 53.2 L202.4 53.3 L202.7 53.4 L203.5 53.5 L204.6 53.7 L205.1 53.9 L205.8 54.0 L207.4 54.3 L207.6 54.3 L209.0 54.6 L210.0 54.8 L210.7 55.0 L212.3 55.3 L212.4 55.3 L213.9 55.6 L214.9 55.8 L215.5 56.0 L217.1 56.3 L217.3 56.3 L218.7 56.6 L219.7 56.8 L220.4 56.9 L222.2 57.2 L222.2 57.2 L224.0 57.5 L224.6 57.6 L225.8 57.7 L227.0 57.9 L227.6 58.0 L229.3 58.2 L229.5 58.2 L231.1 58.4 L231.9 58.5 L232.9 58.6 L234.4 58.8 L234.7 58.8 L236.4 59.0 L236.8 59.1 L238.0 59.2 L239.3 59.3 L239.7 59.3 L241.3 59.5 L241.7 59.5 L242.9 59.6 L244.2 59.7 L244.5 59.7 L246.2 59.9 L246.6 59.9 L247.8 60.0 L249.1 60.1 L249.4 60.1 L251.5 60.3 L252.8 60.4 L254.0 60.4 L256.5 60.6 L257.3 60.7 L258.9 60.8 L261.4 61.0 L261.8 61.0 L263.8 61.1 L266.3 61.3 L266.3 61.3 L268.7 61.5 L270.8 61.6 L271.2 61.6 L273.6 61.8 L275.3 61.9 L276.1 62.0 L278.6 62.1 L279.8 62.2 L281.0 62.3 L283.5 62.4 L284.2 62.5 L285.9 62.6 L288.4 62.7 L288.7 62.7 L290.8 62.9 L293.3 63.0 L294.0 63.1 L295.8 63.2 L298.2 63.3 L299.6 63.4 L300.7 63.5 L303.1 63.6 L305.2 63.7 L305.6 63.7 L308.1 63.9 L310.5 64.0 L310.8 64.0 L313.0 64.1 L315.4 64.3 L316.5 64.3 L317.9 64.4 L320.4 64.5 L322.1 64.6 L322.8 64.7 L325.3 64.8 L327.7 64.9 L327.7 64.9 L330.2 65.0 L332.7 65.2 L333.3 65.2 L335.1 65.3 L337.6 65.4 L338.9 65.5 L340.0 65.5 L342.5 65.6 L345.0 65.7 L347.4 65.9 L349.1 65.9 L349.9 66.0 L352.4 66.1 L354.8 66.2 L357.3 66.3 L359.7 66.4 L360.3 66.5 L362.2 66.5 L364.7 66.7 L367.1 66.8 L369.6 66.9 L371.5 67.0 L372.1 67.0 L374.5 67.1 L377.0 67.2 L379.4 67.3 L381.9 67.4 L382.8 67.4 L384.4 67.5 L386.8 67.6 L389.3 67.7 L391.8 67.8 L394.0 67.9 L394.2 67.9 L396.7 68.0 L399.2 68.1 L401.6 68.2 L404.1 68.3 L405.3 68.4 L406.5 68.5 L409.0 68.6 L411.5 68.7 L413.9 68.8 L416.4 68.9 L416.5 68.9 L418.9 69.0 L421.3 69.1 L423.8 69.2 L426.3 69.3 L427.7 69.3 L428.7 69.4 L431.2 69.5 L433.6 69.6 L436.1 69.7 L438.6 69.8 L439.0 69.8 L441.0 69.9 L443.5 70.0 L446.0 70.1 L448.4 70.2 L449.9 70.3 L450.9 70.3 L453.3 70.5 L455.8 70.6 L458.3 70.7 L460.7 70.8 L460.8 70.8 L463.2 70.9 L465.7 71.0 L468.1 71.1 L470.6 71.2 L471.7 71.3 L473.0 71.4 L475.5 71.5 L478.0 71.6 L480.4 71.7 L482.6 71.8 L482.9 71.8 L485.4 72.0 L487.8 72.1 L490.3 72.2 L492.7 72.3 L493.5 72.4 L495.2 72.5 L497.7 72.6 L500.1 72.7 L502.6 72.8 L504.4 72.9 L505.0 73.0 L507.5 73.1 L510.0 73.2 L512.4 73.4 L514.9 73.5 L515.2 73.5 L517.3 73.7 L519.8 73.8 L522.2 73.9 L524.7 74.1 L526.1 74.2 L527.2 74.2 L529.6 74.4 L532.1 74.5 L534.5 74.7 L537.0 74.8"/>
<path class="c" stroke="#2c8c46" d="M51.6 297.0 L52.2 314.0 L53.0 327.1 L53.0 328.3 L53.1 329.3 L53.2 330.1 L53.4 330.7 L53.4 330.8 L53.7 331.3 L54.0 331.7 L54.4 332.0 L54.7 332.1 L54.8 332.1 L55.2 332.2 L55.6 332.1 L56.1 332.0 L56.5 331.9 L56.6 331.9 L57.1 331.7 L57.7 331.4 L58.2 331.1 L58.7 330.8 L58.8 330.8 L59.3 330.4 L59.9 330.1 L60.7 329.6 L61.0 329.4 L61.4 329.1 L62.2 328.6 L62.9 328.2 L63.3 327.9 L63.6 327.7 L64.4 327.2 L65.1 326.7 L65.5 326.4 L65.8 326.2 L66.5 325.6 L67.3 325.1 L67.6 324.8 L68.0 324.5 L68.8 323.9 L69.5 323.2 L69.5 323.2 L70.1 322.6 L70.8 321.9 L71.3 321.4 L71.4 321.3 L72.0 320.6 L72.6 319.8 L72.9 319.5 L73.2 319.0 L73.7 318.1 L74.2 317.4 L74.3 317.2 L74.7 316.3 L75.2 315.4 L75.3 315.2 L75.6 314.5 L76.0 313.5 L76.2 312.9 L76.3 312.6 L76.7 311.5 L77.0 310.5 L77.0 310.4 L77.3 309.3 L77.6 308.2 L77.7 308.0 L77.9 307.0 L78.1 305.9 L78.2 305.5 L78.3 304.7 L78.6 303.5 L78.7 302.9 L78.7 302.3 L78.9 301.1 L79.1 300.4 L79.1 299.8 L79.3 298.4 L79.4 297.8 L79.5 297.1 L79.7 295.8 L79.7 295.2 L79.8 294.4 L79.9 293.1 L80.0 292.6 L80.1 291.8 L80.2 290.5 L80.2 290.1 L80.4 287.5 L80.4 287.3 L80.6 284.9 L80.7 283.4 L80.8 282.3 L80.9 279.8 L80.9 279.4 L81.0 277.2 L81.1 275.4 L81.1 274.6 L81.2 272.0 L81.2 271.5 L81.3 269.4 L81.3 267.5 L81.3 266.9 L81.4 264.3 L81.4 263.6 L81.4 261.7 L81.5 259.6 L81.5 259.1 L81.6 256.6 L81.6 255.6 L81.6 254.0 L81.7 251.4 L81.8 249.5 L81.8 248.9 L81.9 246.3 L82.0 243.7 L82.1 242.8 L82.2 241.2 L82.3 238.6 L82.5 236.1 L82.5 236.0 L82.6 233.5 L82.8 231.0 L82.9 229.3 L83.0 228.4 L83.2 225.9 L83.4 223.3 L83.4 222.6 L83.6 220.8 L83.8 218.3 L84.0 215.9 L84.0 215.7 L84.3 213.2 L84.5 210.7 L84.7 209.2 L84.8 208.1 L85.1 205.6 L85.4 203.1 L85.4 202.6 L85.7 200.5 L86.0 198.0 L86.2 195.9 L86.3 195.5 L86.6 193.0 L86.8 191.9 L87.0 190.4 L87.3 188.2 L87.3 187.9 L87.7 185.4 L87.8 184.5 L88.1 182.9 L88.4 180.8 L88.5 180.4 L88.9 177.9 L89.0 177.1 L89.3 175.3 L89.6 173.4 L89.7 172.8 L90.1 170.3 L90.2 169.7 L90.6 167.8 L90.9 166.1 L91.0 165.3 L91.5 162.8 L91.5 162.4 L91.9 160.3 L92.1 159.6 L92.4 157.7 L92.6 156.8 L92.9 155.2 L93.2 154.1 L93.4 152.7 L93.7 151.3 L93.9 150.2 L94.3 148.5 L94.5 147.7 L94.9 145.8 L95.0 145.2 L95.5 143.0 L95.6 142.7 L96.1 140.2 L96.1 140.2 L96.7 137.7 L96.7 137.5 L97.1 135.8 L97.3 135.2 L97.5 134.1 L97.9 132.6 L97.9 132.4 L98.3 130.7 L98.5 130.1 L98.8 129.0 L99.1 127.6 L99.2 127.3 L99.6 125.6 L99.7 125.1 L100.0 123.9 L100.4 122.6 L100.5 122.2 L100.9 120.3 L101.0 120.1 L101.4 118.5 L101.7 117.6 L101.9 116.7 L102.4 115.1 L102.4 114.9 L102.9 113.1 L103.1 112.6 L103.4 111.2 L103.8 110.1 L104.0 109.4 L104.5 107.6 L104.5 107.6 L105.1 105.8 L105.3 105.1 L105.7 104.0 L106.1 102.7 L106.3 102.2 L106.9 100.4 L107.0 100.3 L107.6 98.6 L107.9 97.8 L108.2 96.9 L108.8 95.4 L108.9 95.1 L109.6 93.4 L109.7 93.1 L110.4 91.6 L110.8 90.7 L111.1 90.1 L111.6 88.8 L111.8 88.4 L112.3 87.5 L112.9 86.3 L112.9 86.2 L113.5 85.0 L114.1 83.9 L114.2 83.8 L114.8 82.6 L115.4 81.7 L115.5 81.4 L116.2 80.2 L116.6 79.5 L116.8 79.2 L117.2 78.6 L117.6 78.0 L118.0 77.4 L118.0 77.4 L118.4 76.8 L118.9 76.1 L119.3 75.5 L119.4 75.3 L119.7 74.9 L120.1 74.3 L120.8 73.5 L120.9 73.3 L121.5 72.5 L122.3 71.5 L122.5 71.3 L123.2 70.5 L124.0 69.5 L124.2 69.3 L124.9 68.5 L125.7 67.6 L125.9 67.4 L126.6 66.6 L127.5 65.7 L127.6 65.6 L128.4 64.9 L129.2 64.1 L129.5 63.9 L130.1 63.4 L130.9 62.6 L131.4 62.2 L131.8 61.9 L132.6 61.2 L133.4 60.6 L133.5 60.5 L134.4 59.8 L135.4 59.2 L135.4 59.1 L136.2 58.6 L137.0 58.0 L137.5 57.7 L137.9 57.5 L138.7 56.9 L139.6 56.4 L139.7 56.3 L140.4 55.9 L141.3 55.4 L141.9 55.1 L142.2 55.0 L143.1 54.5 L143.8 54.2 L144.2 54.0 L144.5 53.8 L145.3 53.5 L146.0 53.2 L146.6 53.0 L146.7 52.9 L147.5 52.6 L148.2 52.3 L149.0 52.1 L149.0 52.1 L149.7 51.8 L150.5 51.6 L151.3 51.3 L151.4 51.3 L152.1 51.1 L152.9 50.9 L153.7 50.7 L153.9 50.6 L154.5 50.5 L155.3 50.3 L156.1 50.1 L156.5 50.0 L157.0 49.9 L158.5 49.6 L159.0 49.5 L160.1 49.3 L161.6 49.0 L161.7 49.0 L163.3 48.7 L164.2 48.6 L164.9 48.5 L166.5 48.2 L166.8 48.2 L168.0 48.0 L169.4 47.8 L169.6 47.7 L171.1 47.4 L171.9 47.3 L172.4 47.2 L173.6 47.0 L174.4 46.9 L174.9 46.8 L176.1 46.6 L176.9 46.5 L177.3 46.4 L178.6 46.2 L179.4 46.2 L179.8 46.1 L181.0 46.1 L181.9 46.1 L182.3 46.1 L183.9 46.1 L184.4 46.2 L185.4 46.3 L186.9 46.5 L186.9 46.5 L188.5 46.8 L189.4 47.0 L190.0 47.1 L191.5 47.4 L191.9 47.5 L193.1 47.8 L194.4 48.1 L194.6 48.2 L196.2 48.6 L196.9 48.7 L198.0 49.0 L199.4 49.3 L199.8 49.4 L201.7 49.8 L202.0 49.8 L203.5 50.1 L204.5 50.4 L205.3 50.5 L207.0 50.8 L207.1 50.9 L208.9 51.2 L209.6 51.3 L210.7 51.5 L212.1 51.7 L212.5 51.8 L214.3 52.1 L214.6 52.1 L216.0 52.4 L217.2 52.5 L217.8 52.6 L219.6 52.9 L219.7 52.9 L221.3 53.1 L222.3 53.2 L223.1 53.3 L224.8 53.5 L224.9 53.5 L226.7 53.7 L227.3 53.8 L228.8 54.0 L229.9 54.1 L231.4 54.2 L232.4 54.3 L233.9 54.5 L235.0 54.6 L236.4 54.7 L237.5 54.8 L238.9 54.9 L240.1 55.0 L241.4 55.1 L242.6 55.2 L244.0 55.3 L245.2 55.4 L246.5 55.4 L247.7 55.5 L249.0 55.6 L250.3 55.7 L252.7 55.8 L252.8 55.8 L255.4 55.9 L257.2 56.0 L258.0 56.0 L260.5 56.1 L261.7 56.2 L263.1 56.2 L265.6 56.3 L266.2 56.3 L268.2 56.4 L270.7 56.5 L270.8 56.5 L273.3 56.5 L275.2 56.6 L275.9 56.6 L278.4 56.7 L279.7 56.7 L281.0 56.7 L283.6 56.8 L284.2 56.8 L286.1 56.8 L288.7 56.9 L288.7 56.9 L291.3 57.0 L293.8 57.0 L294.0 57.0 L296.4 57.1 L298.9 57.1 L299.6 57.2 L301.5 57.2 L304.1 57.3 L305.2 57.3 L306.6 57.4 L309.2 57.4 L310.8 57.5 L311.7 57.5 L314.3 57.6 L316.4 57.6 L316.9 57.7 L319.4 57.7 L322.0 57.8 L322.1 57.8 L324.5 57.9 L327.1 58.0 L327.7 58.0 L329.7 58.1 L332.2 58.1 L333.3 58.2 L334.8 58.2 L337.3 58.3 L338.9 58.4 L339.9 58.4 L342.5 58.5 L345.0 58.6 L347.6 58.7 L349.1 58.7 L350.2 58.8 L352.7 58.9 L355.3 59.0 L357.8 59.1 L360.3 59.2 L360.4 59.2 L363.0 59.3 L365.5 59.4 L368.1 59.5 L370.6 59.6 L371.5 59.6 L373.2 59.7 L375.8 59.8 L378.3 59.9 L380.9 60.0 L382.8 60.1 L383.4 60.1 L386.0 60.2 L388.6 60.3 L391.1 60.4 L393.7 60.5 L394.0 60.6 L396.2 60.6 L398.8 60.8 L401.4 60.9 L403.9 61.0 L405.2 61.0 L406.5 61.1 L409.0 61.2 L411.6 61.3 L414.1 61.4 L416.5 61.5 L416.7 61.5 L419.3 61.7 L421.8 61.8 L424.4 61.9 L426.9 62.0 L427.7 62.0 L429.5 62.1 L432.1 62.2 L434.6 62.4 L437.2 62.5 L438.9 62.6 L439.7 62.6 L442.3 62.7 L444.9 62.8 L447.4 62.9 L449.8 63.0 L450.0 63.1 L452.5 63.2 L455.1 63.3 L457.7 63.4 L460.2 63.5 L460.7 63.5 L462.8 63.6 L465.3 63.8 L467.9 63.9 L470.5 64.0 L471.6 64.0 L473.0 64.1 L475.6 64.2 L478.1 64.3 L480.7 64.4 L482.5 64.5 L483.3 64.6 L485.8 64.7 L488.4 64.8 L490.9 64.9 L493.4 65.0 L493.5 65.0 L496.0 65.1 L498.6 65.2 L501.2 65.3 L503.7 65.4 L504.3 65.5 L506.3 65.6 L508.8 65.7 L511.4 65.8 L514.0 65.9 L515.2 65.9 L516.5 66.0 L519.1 66.1 L521.6 66.2 L524.2 66.3 L526.1 66.4 L526.8 66.4 L529.3 66.5 L531.9 66.6 L534.4 66.7 L537.0 66.8"/>
<path class="c" stroke="#38388c" d="M51.6 297.0 L52.2 314.0 L52.9 327.2 L52.9 328.4 L53.0 329.5 L53.1 330.4 L53.2 330.8 L53.3 331.1 L53.6 331.7 L54.0 332.2 L54.4 332.5 L54.4 332.6 L54.8 332.8 L55.3 332.9 L55.7 333.0 L56.2 333.0 L56.3 333.0 L56.6 332.9 L57.1 332.9 L57.6 332.8 L58.1 332.6 L58.6 332.5 L58.6 332.5 L59.2 332.3 L59.8 332.2 L60.7 331.9 L61.1 331.7 L61.6 331.6 L62.6 331.2 L63.6 330.9 L63.8 330.8 L64.5 330.5 L65.5 330.1 L66.4 329.7 L66.4 329.7 L67.4 329.3 L68.4 328.9 L69.1 328.5 L69.4 328.3 L70.5 327.8 L71.5 327.2 L71.6 327.1 L72.5 326.6 L73.4 325.9 L73.9 325.6 L74.3 325.3 L75.2 324.5 L76.0 323.8 L76.0 323.8 L76.7 323.0 L77.3 322.3 L77.7 321.8 L77.8 321.6 L78.4 320.8 L78.8 320.1 L79.1 319.6 L79.3 319.3 L79.7 318.5 L80.1 317.6 L80.3 317.2 L80.4 316.8 L80.8 315.8 L81.1 314.7 L81.2 314.5 L81.5 313.3 L81.8 312.1 L81.9 312.0 L82.1 310.7 L82.4 309.4 L82.4 309.3 L82.6 308.0 L82.8 306.7 L82.8 306.7 L83.0 305.3 L83.2 303.9 L83.2 303.9 L83.4 302.2 L83.5 301.2 L83.6 300.6 L83.8 298.9 L83.8 298.5 L84.0 297.3 L84.1 295.7 L84.1 295.6 L84.3 294.0 L84.4 293.0 L84.4 292.3 L84.6 290.7 L84.6 290.3 L84.8 288.0 L84.8 287.7 L85.0 285.0 L85.1 284.1 L85.2 282.3 L85.3 280.2 L85.4 279.6 L85.5 277.0 L85.6 276.4 L85.7 274.3 L85.8 272.5 L85.8 271.6 L85.9 269.0 L85.9 268.6 L86.1 266.3 L86.1 264.8 L86.2 263.6 L86.3 261.0 L86.3 260.9 L86.4 258.3 L86.5 257.0 L86.5 255.6 L86.6 252.9 L86.7 251.6 L86.8 250.2 L86.9 247.5 L87.1 244.9 L87.1 244.8 L87.2 242.1 L87.4 239.4 L87.4 238.2 L87.5 236.7 L87.7 234.0 L87.9 231.4 L87.9 231.3 L88.1 228.6 L88.3 225.8 L88.3 224.7 L88.5 223.1 L88.7 220.4 L88.9 217.9 L88.9 217.7 L89.2 214.9 L89.4 212.2 L89.5 211.1 L89.7 209.5 L90.0 206.8 L90.2 204.4 L90.3 204.0 L90.6 201.3 L90.9 198.6 L91.0 197.6 L91.2 195.9 L91.6 193.2 L91.7 192.7 L92.0 190.4 L92.2 189.0 L92.4 187.7 L92.7 185.2 L92.8 185.0 L93.2 182.3 L93.3 181.5 L93.6 179.6 L93.9 177.8 L94.1 176.9 L94.6 174.2 L94.6 174.1 L95.1 171.6 L95.3 170.4 L95.6 168.9 L96.0 166.7 L96.1 166.2 L96.7 163.5 L96.8 163.0 L97.3 160.9 L97.5 160.0 L97.9 158.2 L98.1 157.2 L98.5 155.6 L98.8 154.4 L99.2 153.0 L99.5 151.6 L99.9 150.3 L100.3 148.9 L100.6 147.7 L101.0 146.1 L101.3 145.1 L101.8 143.4 L102.1 142.5 L102.6 140.6 L102.8 139.9 L103.5 137.9 L103.6 137.4 L104.1 136.0 L104.5 134.8 L104.6 134.3 L105.2 132.6 L105.3 132.2 L105.8 131.0 L106.2 129.7 L106.4 129.3 L107.0 127.7 L107.2 127.2 L107.6 126.0 L108.1 124.7 L108.2 124.4 L108.8 122.7 L109.1 122.2 L109.5 121.0 L110.1 119.7 L110.3 119.2 L111.0 117.4 L111.1 117.2 L111.8 115.7 L112.2 114.7 L112.6 113.9 L113.3 112.3 L113.4 112.1 L114.2 110.4 L114.4 109.8 L115.0 108.7 L115.6 107.4 L115.8 106.9 L116.8 105.1 L116.8 105.0 L117.7 103.3 L118.0 102.6 L118.7 101.5 L119.3 100.3 L119.6 99.6 L120.6 97.9 L120.6 97.8 L121.7 96.1 L121.9 95.6 L122.7 94.3 L123.3 93.2 L123.8 92.5 L124.7 90.9 L124.9 90.7 L125.4 89.9 L125.8 89.2 L126.2 88.6 L126.3 88.4 L126.8 87.6 L127.3 86.9 L127.7 86.4 L127.8 86.1 L128.3 85.4 L128.9 84.6 L129.2 84.1 L129.4 83.9 L130.1 82.9 L130.8 81.9 L130.8 81.9 L131.5 80.9 L132.2 79.9 L132.4 79.7 L132.9 79.0 L133.6 78.0 L134.0 77.5 L134.4 77.0 L135.1 76.1 L135.7 75.4 L135.9 75.1 L136.7 74.1 L137.4 73.3 L137.6 73.1 L138.4 72.1 L139.2 71.2 L139.3 71.1 L140.2 70.1 L141.0 69.2 L141.1 69.1 L142.0 68.1 L142.9 67.2 L142.9 67.2 L143.8 66.3 L144.4 65.6 L144.8 65.2 L145.1 64.9 L145.8 64.2 L146.5 63.6 L146.8 63.4 L147.3 62.9 L148.0 62.3 L148.7 61.6 L148.8 61.5 L149.4 61.0 L150.2 60.4 L150.9 59.8 L150.9 59.8 L151.6 59.2 L152.4 58.6 L153.0 58.1 L153.1 58.0 L153.9 57.4 L154.7 56.8 L155.2 56.5 L155.4 56.3 L156.2 55.7 L157.2 55.1 L157.4 55.0 L158.7 54.1 L159.7 53.5 L160.2 53.2 L161.7 52.3 L162.1 52.1 L163.2 51.5 L164.5 50.8 L164.8 50.7 L166.3 49.9 L166.9 49.6 L167.9 49.1 L169.4 48.5 L169.5 48.4 L171.1 47.8 L171.9 47.4 L172.6 47.2 L174.2 46.6 L174.5 46.5 L175.7 46.0 L177.1 45.6 L177.3 45.5 L178.8 45.1 L179.7 44.8 L180.4 44.6 L182.0 44.2 L182.3 44.1 L183.6 43.8 L184.9 43.5 L185.0 43.5 L186.3 43.3 L187.6 43.0 L187.6 43.0 L188.9 42.8 L190.1 42.6 L190.3 42.6 L191.4 42.4 L192.7 42.3 L192.9 42.2 L194.0 42.1 L195.3 41.9 L195.6 41.9 L196.8 41.7 L198.3 41.6 L198.6 41.5 L200.3 41.3 L201.0 41.3 L202.1 41.1 L203.7 41.0 L203.9 40.9 L205.6 40.8 L206.3 40.7 L207.4 40.6 L209.0 40.4 L209.2 40.4 L211.0 40.2 L211.7 40.2 L212.7 40.1 L214.4 39.9 L214.5 39.9 L216.3 39.7 L217.1 39.7 L218.0 39.6 L219.8 39.4 L219.8 39.4 L221.6 39.3 L222.5 39.2 L223.3 39.2 L225.1 39.0 L225.2 39.0 L226.8 38.9 L227.9 38.8 L229.1 38.8 L230.6 38.7 L231.6 38.6 L233.3 38.5 L234.1 38.4 L236.0 38.3 L236.7 38.3 L238.7 38.2 L239.2 38.1 L241.4 38.0 L241.7 38.0 L244.1 37.9 L244.2 37.9 L246.7 37.7 L246.8 37.7 L249.3 37.6 L249.6 37.6 L252.3 37.5 L253.2 37.4 L255.0 37.4 L257.7 37.3 L257.7 37.2 L260.4 37.1 L262.2 37.1 L263.1 37.0 L265.8 36.9 L266.6 36.9 L268.5 36.9 L271.1 36.8 L271.3 36.8 L274.0 36.7 L275.6 36.6 L276.7 36.6 L279.4 36.5 L280.1 36.5 L282.1 36.4 L284.6 36.4 L284.8 36.4 L287.5 36.3 L289.1 36.3 L290.3 36.2 L293.0 36.1 L294.4 36.1 L295.7 36.1 L298.4 36.0 L300.1 36.0 L301.1 35.9 L303.8 35.9 L305.7 35.8 L306.5 35.8 L309.3 35.7 L311.3 35.7 L312.0 35.6 L314.7 35.6 L316.9 35.5 L317.4 35.5 L320.1 35.4 L322.5 35.4 L322.8 35.4 L325.5 35.3 L328.1 35.2 L328.2 35.2 L331.0 35.2 L333.7 35.1 L333.7 35.1 L336.4 35.1 L339.1 35.0 L339.3 35.0 L341.8 34.9 L344.5 34.9 L347.2 34.8 L349.7 34.8 L349.9 34.7 L352.6 34.7 L355.4 34.6 L358.1 34.6 L360.8 34.5 L360.9 34.5 L363.5 34.5 L366.2 34.4 L368.9 34.4 L371.6 34.3 L372.1 34.3 L374.3 34.3 L377.0 34.2 L379.7 34.2 L382.5 34.1 L383.3 34.1 L385.2 34.1 L387.9 34.0 L390.6 34.0 L393.3 33.9 L394.5 33.9 L396.0 33.9 L398.7 33.8 L401.4 33.8 L404.1 33.8 L405.6 33.7 L406.8 33.7 L409.6 33.7 L412.3 33.7 L415.0 33.6 L416.8 33.6 L417.7 33.6 L420.4 33.6 L423.1 33.5 L425.8 33.5 L428.0 33.5 L428.5 33.5 L431.2 33.4 L433.9 33.4 L436.7 33.4 L439.2 33.4 L439.4 33.4 L442.1 33.4 L444.8 33.3 L447.5 33.3 L450.1 33.3 L450.2 33.3 L452.9 33.3 L455.6 33.3 L458.3 33.3 L460.9 33.2 L461.0 33.2 L463.8 33.2 L466.5 33.2 L469.2 33.2 L471.8 33.2 L471.9 33.2 L474.6 33.2 L477.3 33.2 L480.0 33.2 L482.7 33.2 L482.7 33.2 L485.4 33.2 L488.2 33.2 L490.9 33.2 L493.5 33.2 L493.6 33.2 L496.3 33.2 L499.0 33.3 L501.7 33.3 L504.4 33.3 L504.4 33.3 L507.1 33.3 L509.9 33.3 L512.6 33.3 L515.3 33.4 L515.3 33.4 L518.0 33.4 L520.7 33.4 L523.4 33.4 L526.1 33.5 L526.1 33.5 L528.9 33.5 L531.6 33.5 L534.3 33.6 L537.0 33.6"/>
<path class="c" stroke="#9050dc" d="M51.6 297.0 L52.2 314.0 L53.0 327.1 L53.0 328.2 L53.0 329.1 L53.1 329.8 L53.2 330.3 L53.3 330.5 L53.5 331.0 L53.8 331.4 L54.2 331.7 L54.3 331.7 L54.6 331.9 L55.0 332.0 L55.4 332.0 L55.9 331.9 L56.0 331.9 L56.4 331.8 L57.0 331.7 L57.5 331.5 L58.1 331.3 L58.1 331.3 L58.7 331.0 L59.3 330.7 L60.0 330.4 L60.5 330.1 L60.7 330.0 L61.4 329.7 L62.1 329.3 L62.7 328.9 L62.9 328.8 L63.4 328.5 L64.1 328.1 L64.7 327.6 L65.2 327.3 L65.3 327.2 L65.9 326.7 L66.5 326.2 L67.0 325.6 L67.1 325.6 L67.6 325.0 L68.0 324.5 L68.5 323.9 L68.6 323.7 L68.9 323.3 L69.3 322.6 L69.6 322.0 L69.8 321.7 L70.0 321.2 L70.4 320.1 L70.7 319.5 L70.8 319.0 L71.2 317.9 L71.4 317.3 L71.5 316.8 L71.7 315.7 L71.9 314.9 L72.0 314.5 L72.2 313.4 L72.3 312.6 L72.4 312.2 L72.6 311.1 L72.7 310.2 L72.8 309.9 L72.9 308.8 L73.1 307.9 L73.1 307.7 L73.3 306.5 L73.4 305.5 L73.4 305.4 L73.6 304.3 L73.8 303.1 L73.8 303.1 L73.9 302.0 L74.1 300.7 L74.1 300.7 L74.2 299.4 L74.4 298.3 L74.4 298.1 L74.6 296.8 L74.7 296.0 L74.7 295.5 L74.9 294.2 L74.9 293.6 L75.0 292.9 L75.2 291.6 L75.2 291.2 L75.3 290.3 L75.4 288.8 L75.6 286.8 L75.7 286.4 L75.9 284.0 L76.0 282.9 L76.1 281.6 L76.3 279.2 L76.3 279.0 L76.5 276.8 L76.6 275.1 L76.6 274.4 L76.8 272.0 L76.9 271.1 L77.0 269.6 L77.1 267.2 L77.1 267.2 L77.3 264.8 L77.3 263.3 L77.4 262.4 L77.5 259.9 L77.5 259.3 L77.6 257.5 L77.7 255.4 L77.8 255.1 L77.9 252.7 L77.9 252.2 L78.0 250.3 L78.0 249.0 L78.1 247.9 L78.2 245.8 L78.2 245.5 L78.3 243.0 L78.3 242.6 L78.4 240.6 L78.5 239.4 L78.5 238.2 L78.6 236.2 L78.6 235.8 L78.7 233.3 L78.7 233.0 L78.8 230.9 L78.9 229.8 L78.9 228.5 L79.0 226.6 L79.0 226.1 L79.2 223.6 L79.2 223.0 L79.3 221.2 L79.4 219.4 L79.4 218.8 L79.5 216.4 L79.6 215.8 L79.7 213.9 L79.7 212.2 L79.8 211.5 L79.9 209.1 L80.0 208.6 L80.1 206.7 L80.2 205.0 L80.2 204.2 L80.4 201.8 L80.4 201.4 L80.6 199.4 L80.7 197.8 L80.7 197.0 L80.9 194.5 L80.9 194.3 L81.1 192.1 L81.2 191.1 L81.3 189.7 L81.4 187.9 L81.5 187.3 L81.7 184.9 L81.7 184.7 L81.9 182.4 L82.0 181.5 L82.2 180.0 L82.3 178.3 L82.4 177.6 L82.6 175.2 L82.6 175.1 L82.9 172.8 L83.0 171.9 L83.2 170.4 L83.4 168.8 L83.4 168.0 L83.7 165.6 L83.7 165.5 L84.0 163.2 L84.2 161.9 L84.3 160.8 L84.7 158.4 L84.7 158.3 L85.0 156.0 L85.2 154.8 L85.3 153.6 L85.7 151.2 L85.7 151.2 L86.1 148.9 L86.3 147.6 L86.5 146.5 L86.9 144.1 L86.9 144.1 L87.3 141.7 L87.5 140.6 L87.7 139.4 L88.1 137.0 L88.2 137.0 L88.6 134.6 L88.7 134.4 L88.9 133.0 L89.1 132.3 L89.2 131.6 L89.5 130.2 L89.6 129.9 L89.8 128.8 L90.1 127.6 L90.1 127.4 L90.4 126.1 L90.6 125.2 L90.7 124.7 L91.0 123.3 L91.1 122.9 L91.4 121.7 L91.7 120.6 L91.8 119.9 L92.3 118.2 L92.3 118.1 L92.7 116.3 L92.8 115.9 L93.2 114.5 L93.4 113.6 L93.7 112.8 L94.1 111.3 L94.1 111.0 L94.6 109.2 L94.7 109.0 L95.1 107.4 L95.3 106.6 L95.6 105.6 L96.0 104.3 L96.1 103.8 L96.6 102.1 L96.7 102.0 L97.2 100.3 L97.3 99.7 L97.7 98.5 L98.0 97.4 L98.2 96.7 L98.8 95.1 L98.8 95.0 L99.4 93.2 L99.5 92.8 L99.9 91.4 L100.2 90.5 L100.4 89.8 L100.9 88.2 L101.0 88.2 L101.5 86.6 L101.7 85.9 L102.0 85.1 L102.5 83.6 L102.5 83.5 L103.0 81.9 L103.2 81.2 L103.5 80.3 L104.0 78.9 L104.1 78.8 L104.6 77.2 L104.8 76.6 L105.0 76.2 L105.3 75.2 L105.6 74.3 L105.6 74.2 L106.0 73.2 L106.3 72.3 L106.4 72.0 L106.7 71.3 L107.0 70.3 L107.2 69.7 L107.4 69.4 L107.7 68.4 L108.1 67.3 L108.2 66.9 L108.8 65.4 L108.9 65.0 L109.3 63.9 L109.8 62.7 L109.9 62.5 L110.4 61.0 L110.7 60.4 L111.0 59.5 L111.6 58.1 L111.6 58.1 L112.2 56.7 L112.6 55.9 L112.9 55.4 L113.3 54.5 L113.7 53.8 L113.7 53.7 L114.2 52.9 L114.6 52.1 L114.8 51.7 L115.1 51.3 L115.6 50.5 L116.1 49.7 L116.1 49.7 L116.6 48.9 L117.1 48.2 L117.4 47.8 L117.6 47.5 L118.2 46.8 L118.7 46.2 L118.9 46.0 L119.3 45.5 L119.9 44.9 L120.5 44.3 L120.5 44.3 L121.1 43.7 L121.8 43.1 L122.2 42.8 L122.5 42.5 L123.3 41.9 L124.0 41.4 L124.1 41.4 L124.9 40.8 L125.7 40.3 L126.0 40.1 L126.6 39.7 L127.5 39.2 L128.1 38.9 L128.4 38.7 L129.3 38.3 L130.1 37.8 L130.3 37.7 L130.9 37.4 L131.7 37.1 L132.5 36.7 L132.6 36.7 L133.3 36.3 L134.1 35.9 L134.8 35.6 L134.9 35.6 L135.7 35.2 L136.5 34.8 L137.1 34.5 L137.3 34.5 L138.1 34.1 L138.9 33.7 L139.4 33.5 L139.6 33.4 L140.4 33.0 L141.2 32.7 L141.6 32.5 L141.9 32.3 L142.7 32.0 L143.5 31.7 L143.9 31.5 L144.2 31.4 L144.9 31.1 L145.6 30.9 L146.2 30.7 L146.3 30.6 L147.1 30.4 L147.8 30.2 L148.5 30.0 L148.5 30.0 L149.2 29.8 L149.9 29.6 L150.7 29.5 L150.8 29.4 L151.5 29.3 L152.2 29.2 L153.0 29.1 L153.1 29.1 L153.8 29.1 L154.5 29.0 L155.3 29.0 L155.4 29.0 L156.1 29.0 L156.9 29.0 L157.8 29.0 L158.4 29.1 L159.9 29.2 L160.2 29.2 L161.4 29.3 L162.6 29.4 L163.0 29.5 L164.5 29.7 L165.0 29.7 L166.0 29.9 L167.4 30.1 L167.6 30.1 L169.1 30.4 L169.8 30.5 L170.7 30.6 L172.2 30.8 L172.2 30.8 L173.7 31.1 L174.6 31.2 L175.2 31.3 L176.7 31.5 L177.0 31.5 L178.2 31.7 L179.4 31.8 L179.7 31.8 L181.3 32.0 L181.8 32.1 L182.8 32.2 L184.2 32.3 L184.2 32.3 L185.6 32.5 L186.7 32.6 L186.9 32.6 L188.2 32.7 L189.1 32.8 L189.6 32.8 L190.9 33.0 L191.5 33.0 L192.2 33.1 L193.6 33.2 L193.9 33.2 L194.9 33.3 L196.3 33.4 L196.4 33.4 L198.2 33.5 L198.7 33.5 L199.9 33.6 L201.1 33.7 L201.7 33.7 L203.5 33.8 L203.5 33.8 L205.3 33.9 L206.0 33.9 L207.1 34.0 L208.4 34.0 L208.9 34.1 L210.7 34.1 L210.8 34.1 L213.2 34.2 L213.5 34.2 L215.6 34.3 L217.8 34.4 L218.0 34.4 L220.4 34.4 L222.1 34.5 L222.9 34.5 L225.3 34.5 L226.4 34.5 L227.7 34.6 L230.1 34.6 L230.7 34.6 L232.5 34.6 L234.9 34.7 L235.0 34.7 L237.4 34.7 L239.4 34.7 L239.8 34.7 L242.2 34.7 L243.7 34.7 L244.6 34.8 L247.0 34.8 L248.0 34.8 L249.4 34.8 L251.9 34.8 L252.4 34.8 L254.3 34.8 L256.7 34.9 L256.9 34.9 L259.1 34.9 L261.4 34.9 L261.5 34.9 L263.9 35.0 L265.9 35.0 L266.3 35.0 L268.8 35.0 L270.4 35.1 L271.2 35.1 L273.6 35.1 L274.9 35.1 L276.0 35.1 L278.4 35.2 L279.4 35.2 L280.8 35.2 L283.3 35.3 L283.9 35.3 L285.7 35.3 L288.1 35.3 L288.4 35.4 L290.5 35.4 L292.9 35.4 L293.6 35.5 L295.3 35.5 L297.8 35.5 L299.3 35.6 L300.2 35.6 L302.6 35.6 L304.9 35.7 L305.0 35.7 L307.4 35.8 L309.8 35.8 L310.5 35.8 L312.3 35.9 L314.7 35.9 L316.1 36.0 L317.1 36.0 L319.5 36.0 L321.8 36.1 L321.9 36.1 L324.4 36.2 L326.8 36.2 L327.4 36.2 L329.2 36.3 L331.6 36.4 L333.0 36.4 L334.0 36.4 L336.4 36.5 L338.7 36.6 L338.9 36.6 L341.3 36.6 L343.7 36.7 L346.1 36.8 L348.5 36.8 L348.6 36.8 L350.9 36.9 L353.4 37.0 L355.8 37.1 L358.2 37.1 L359.9 37.2 L360.6 37.2 L363.0 37.3 L365.4 37.4 L367.9 37.4 L370.3 37.5 L371.1 37.5 L372.7 37.6 L375.1 37.7 L377.5 37.8 L379.9 37.8 L382.4 37.9 L382.4 37.9 L384.8 38.0 L387.2 38.1 L389.6 38.2 L392.0 38.2 L393.6 38.3 L394.4 38.3 L396.9 38.4 L399.3 38.5 L401.7 38.6 L404.1 38.7 L404.9 38.7 L406.5 38.7 L408.9 38.8 L411.4 38.9 L413.8 39.0 L416.2 39.1 L416.2 39.1 L418.6 39.2 L421.0 39.2 L423.4 39.3 L425.9 39.4 L427.4 39.5 L428.3 39.5 L430.7 39.6 L433.1 39.7 L435.5 39.8 L437.9 39.8 L438.7 39.9 L440.4 39.9 L442.8 40.0 L445.2 40.1 L447.6 40.2 L449.6 40.3 L450.0 40.3 L452.4 40.4 L454.9 40.4 L457.3 40.5 L459.7 40.6 L460.6 40.6 L462.1 40.7 L464.5 40.8 L466.9 40.9 L469.4 40.9 L471.5 41.0 L471.8 41.0 L474.2 41.1 L476.6 41.2 L479.0 41.3 L481.4 41.4 L482.4 41.4 L483.9 41.4 L486.3 41.5 L488.7 41.6 L491.1 41.7 L493.3 41.8 L493.5 41.8 L495.9 41.8 L498.3 41.9 L500.8 42.0 L503.2 42.1 L504.2 42.1 L505.6 42.2 L508.0 42.2 L510.4 42.3 L512.8 42.4 L515.2 42.5 L515.3 42.5 L517.7 42.5 L520.1 42.6 L522.5 42.7 L524.9 42.7 L526.1 42.8 L527.3 42.8 L529.8 42.9 L532.2 43.0 L534.6 43.0 L537.0 43.1"/>
<path class="c" stroke="#a846b4" d="M51.6 297.0 L52.2 314.0 L52.6 327.5 L52.9 328.3 L53.1 328.9 L53.4 329.5 L53.6 329.8 L53.7 329.9 L54.0 330.3 L54.3 330.6 L54.7 330.9 L54.8 330.9 L55.0 331.0 L55.4 331.1 L55.7 331.1 L56.0 331.1 L56.2 331.1 L56.3 331.0 L56.5 331.0 L56.8 330.8 L57.1 330.7 L57.4 330.5 L57.6 330.4 L57.7 330.3 L58.1 330.1 L58.5 329.7 L58.8 329.4 L59.1 329.1 L59.2 329.0 L59.6 328.5 L60.0 328.1 L60.3 327.6 L60.4 327.5 L60.7 327.1 L61.0 326.6 L61.4 326.0 L61.6 325.6 L61.8 325.2 L62.2 324.5 L62.6 323.7 L62.6 323.7 L62.9 322.9 L63.2 322.1 L63.4 321.7 L63.5 321.3 L63.8 320.5 L64.0 319.7 L64.0 319.6 L64.3 318.4 L64.6 317.5 L64.7 316.8 L64.9 315.3 L65.0 315.2 L65.2 313.6 L65.2 313.2 L65.4 312.0 L65.4 311.0 L65.5 310.3 L65.6 308.7 L65.6 308.7 L65.7 307.0 L65.7 306.5 L65.8 305.3 L65.8 304.3 L65.9 303.7 L65.9 302.0 L65.9 302.0 L66.0 300.3 L66.0 299.8 L66.1 298.6 L66.2 297.6 L66.2 296.9 L66.3 295.4 L66.3 295.3 L66.4 293.6 L66.4 293.1 L66.4 291.9 L66.5 290.9 L66.5 290.2 L66.6 288.7 L66.7 286.6 L66.7 286.5 L66.8 284.3 L66.9 282.6 L67.0 282.1 L67.1 279.9 L67.1 278.7 L67.2 277.6 L67.3 275.4 L67.4 274.7 L67.4 273.2 L67.6 271.0 L67.6 270.7 L67.7 268.8 L67.8 266.8 L67.8 266.7 L68.0 264.5 L68.1 262.8 L68.1 262.3 L68.3 260.1 L68.3 258.9 L68.4 257.9 L68.5 255.7 L68.6 254.9 L68.7 253.5 L68.8 251.7 L68.8 251.3 L69.0 249.2 L69.0 248.5 L69.2 247.0 L69.3 245.3 L69.3 244.8 L69.5 242.6 L69.5 242.2 L69.7 240.4 L69.8 239.0 L69.8 238.3 L70.0 236.1 L70.0 235.8 L70.2 233.9 L70.3 232.6 L70.4 231.7 L70.6 229.6 L70.6 229.5 L70.8 227.4 L70.9 226.2 L71.0 225.2 L71.2 223.0 L71.2 222.7 L71.4 220.9 L71.6 219.1 L71.6 218.7 L71.8 216.5 L71.9 215.5 L72.0 214.4 L72.3 212.2 L72.3 212.0 L72.5 210.0 L72.7 208.4 L72.7 207.9 L73.0 205.7 L73.1 204.8 L73.2 203.5 L73.5 201.3 L73.5 201.3 L73.7 199.2 L73.9 197.7 L74.0 197.0 L74.3 194.8 L74.3 194.7 L74.5 193.3 L74.5 192.7 L74.6 191.9 L74.8 190.5 L74.8 190.5 L75.0 189.1 L75.1 188.3 L75.2 187.7 L75.4 186.3 L75.4 186.1 L75.6 184.8 L75.7 184.0 L75.8 183.4 L76.0 181.8 L76.1 181.5 L76.4 179.6 L76.5 178.9 L76.7 177.5 L76.9 176.2 L77.0 175.3 L77.3 173.5 L77.4 173.1 L77.7 171.0 L77.8 170.8 L78.1 168.8 L78.2 168.1 L78.5 166.6 L78.7 165.5 L78.9 164.5 L79.2 162.8 L79.3 162.3 L79.7 160.2 L79.7 160.1 L80.1 158.0 L80.2 157.4 L80.6 155.9 L80.8 154.7 L81.0 153.7 L81.4 152.0 L81.5 151.6 L82.0 149.4 L82.0 149.3 L82.5 147.3 L82.6 146.7 L83.0 145.2 L83.3 144.0 L83.5 143.0 L83.9 141.3 L84.0 140.9 L84.6 138.8 L84.6 138.6 L85.2 136.7 L85.4 136.0 L85.8 134.6 L85.9 134.0 L86.4 132.4 L86.4 132.4 L86.9 130.8 L87.0 130.3 L87.4 129.2 L87.6 128.2 L87.9 127.5 L88.3 126.2 L88.4 125.9 L88.9 124.3 L89.0 124.1 L89.4 122.7 L89.7 122.0 L90.0 121.1 L90.4 119.9 L90.6 119.5 L91.1 117.9 L91.2 117.8 L91.7 116.3 L91.9 115.8 L92.3 114.7 L92.7 113.7 L92.9 113.1 L93.5 111.7 L93.6 111.5 L94.2 109.9 L94.3 109.6 L94.9 108.4 L95.2 107.6 L95.5 106.8 L96.1 105.6 L96.2 105.3 L96.8 103.8 L97.0 103.5 L97.5 102.4 L97.9 101.5 L98.2 100.9 L98.9 99.6 L98.9 99.5 L99.6 98.0 L99.9 97.6 L100.4 96.6 L100.9 95.7 L101.1 95.2 L101.9 93.8 L102.0 93.8 L102.7 92.6 L103.1 91.9 L103.5 91.4 L104.3 90.2 L104.3 90.1 L105.1 89.0 L105.6 88.3 L106.0 87.8 L106.9 86.7 L106.9 86.6 L107.8 85.6 L108.3 85.0 L108.7 84.5 L109.7 83.4 L109.8 83.4 L110.7 82.4 L111.3 81.8 L111.8 81.4 L112.9 80.4 L112.9 80.4 L114.0 79.5 L114.6 79.0 L115.1 78.6 L116.3 77.7 L116.3 77.7 L117.4 76.8 L118.1 76.4 L118.6 76.0 L119.8 75.2 L119.9 75.1 L120.9 74.5 L121.8 74.0 L122.0 73.9 L123.0 73.2 L123.7 72.8 L124.2 72.6 L125.3 72.0 L125.7 71.8 L126.4 71.4 L127.5 70.8 L127.6 70.7 L128.6 70.2 L129.6 69.7 L129.7 69.7 L130.7 69.2 L131.6 68.8 L131.7 68.7 L132.7 68.3 L133.6 67.9 L133.7 67.8 L134.7 67.4 L135.6 67.0 L135.7 66.9 L136.8 66.5 L137.6 66.1 L137.8 66.1 L138.8 65.7 L139.7 65.3 L139.8 65.3 L140.8 64.9 L141.7 64.6 L141.8 64.6 L142.8 64.2 L143.8 63.8 L143.8 63.8 L144.8 63.5 L145.8 63.1 L145.9 63.1 L146.8 62.8 L147.8 62.5 L147.9 62.5 L148.9 62.2 L149.9 61.9 L150.0 61.8 L150.9 61.6 L151.9 61.3 L152.1 61.2 L153.0 61.0 L154.0 60.7 L154.2 60.6 L155.0 60.4 L156.1 60.1 L156.3 60.1 L158.0 59.6 L158.5 59.5 L160.0 59.1 L160.6 59.0 L162.1 58.7 L162.7 58.5 L164.1 58.2 L164.9 58.1 L166.1 57.8 L167.0 57.6 L168.2 57.4 L169.2 57.2 L170.2 57.0 L171.3 56.8 L172.3 56.6 L173.5 56.4 L174.3 56.2 L175.6 56.0 L176.4 55.9 L177.8 55.7 L178.4 55.6 L180.0 55.3 L180.5 55.2 L182.1 55.0 L182.5 54.9 L184.3 54.7 L184.6 54.6 L186.5 54.4 L186.6 54.3 L188.7 54.1 L188.7 54.0 L190.7 53.8 L190.8 53.8 L192.6 53.5 L193.0 53.5 L193.4 53.4 L194.3 53.3 L195.1 53.2 L195.2 53.2 L196.0 53.1 L196.9 53.0 L197.4 52.9 L197.7 52.9 L198.6 52.8 L199.5 52.7 L199.6 52.7 L200.5 52.6 L201.7 52.4 L201.8 52.4 L203.1 52.2 L203.9 52.2 L204.4 52.1 L205.8 51.9 L206.1 51.9 L207.1 51.8 L208.3 51.7 L208.4 51.7 L209.7 51.5 L210.5 51.4 L211.0 51.4 L212.7 51.2 L212.7 51.2 L214.8 51.0 L214.8 51.0 L216.8 50.8 L217.0 50.8 L218.9 50.6 L219.2 50.5 L220.9 50.4 L221.4 50.3 L223.0 50.2 L223.6 50.1 L225.1 50.0 L225.8 49.9 L227.1 49.8 L227.9 49.7 L229.2 49.6 L230.1 49.6 L231.4 49.5 L232.3 49.4 L233.6 49.3 L234.5 49.2 L235.9 49.1 L236.7 49.0 L238.1 48.9 L238.9 48.9 L240.4 48.7 L241.1 48.7 L242.7 48.6 L243.2 48.5 L244.9 48.4 L245.4 48.4 L247.2 48.3 L247.6 48.2 L249.4 48.1 L249.8 48.1 L252.0 48.0 L252.0 48.0 L254.2 47.8 L254.6 47.8 L256.4 47.7 L257.3 47.6 L258.6 47.6 L259.9 47.5 L260.7 47.4 L262.5 47.3 L262.9 47.3 L265.1 47.2 L265.2 47.2 L267.3 47.1 L267.8 47.1 L269.5 47.0 L270.5 46.9 L271.7 46.9 L273.1 46.8 L273.9 46.8 L274.8 46.7 L276.1 46.7 L276.3 46.7 L277.8 46.6 L278.3 46.6 L279.4 46.5 L280.4 46.5 L280.9 46.5 L282.5 46.4 L282.6 46.4 L284.0 46.4 L284.8 46.3 L285.5 46.3 L287.0 46.2 L287.1 46.2 L288.5 46.2 L289.2 46.2 L290.0 46.1 L291.4 46.1 L291.4 46.1 L292.9 46.0 L293.6 46.0 L294.4 46.0 L295.8 46.0 L295.8 46.0 L297.3 45.9 L298.0 45.9 L298.8 45.9 L300.2 45.8 L300.4 45.8 L302.4 45.8 L302.6 45.8 L304.5 45.7 L304.9 45.7 L306.7 45.7 L307.1 45.7 L308.9 45.6 L309.4 45.6 L311.1 45.6 L311.7 45.6 L313.3 45.5 L313.9 45.5 L315.5 45.5 L316.2 45.5 L317.7 45.5 L318.4 45.4 L319.9 45.4 L320.7 45.4 L322.1 45.4 L322.9 45.4 L324.3 45.4 L325.2 45.4 L326.5 45.3 L327.4 45.3 L328.7 45.3 L329.7 45.3 L330.8 45.3 L332.0 45.3 L333.0 45.3 L334.2 45.3 L335.2 45.3 L336.5 45.2 L337.4 45.2 L338.7 45.2 L339.6 45.2 L341.0 45.2 L341.8 45.2 L343.2 45.2 L344.0 45.2 L345.5 45.2 L346.2 45.2 L347.8 45.2 L348.4 45.2 L350.0 45.2 L350.6 45.2 L352.3 45.2 L352.8 45.2 L354.5 45.2 L355.0 45.2 L356.8 45.2 L357.2 45.2 L359.0 45.2 L359.4 45.2 L361.5 45.2 L362.6 45.2 L363.7 45.2 L365.9 45.2 L367.1 45.2 L368.1 45.3 L370.3 45.3 L371.6 45.3 L372.5 45.3 L374.7 45.3 L376.2 45.3 L376.9 45.3 L379.1 45.3 L380.7 45.4 L381.3 45.4 L383.5 45.4 L385.2 45.4 L385.7 45.4 L387.9 45.4 L389.7 45.4 L390.1 45.5 L392.3 45.5 L394.2 45.5 L394.5 45.5 L396.7 45.5 L398.7 45.6 L398.8 45.6 L401.0 45.6 L403.2 45.6 L403.3 45.6 L405.4 45.7 L407.6 45.7 L407.8 45.7 L409.8 45.7 L412.0 45.8 L412.3 45.8 L414.2 45.8 L416.4 45.8 L416.8 45.8 L418.6 45.9 L420.8 45.9 L421.3 45.9 L423.0 45.9 L425.2 46.0 L425.8 46.0 L427.4 46.0 L429.6 46.0 L430.4 46.1 L431.8 46.1 L434.0 46.1 L434.9 46.1 L436.1 46.2 L438.3 46.2 L439.4 46.2 L440.5 46.2 L442.7 46.3 L444.9 46.3 L447.1 46.3 L449.3 46.4 L449.5 46.4 L451.5 46.4 L453.7 46.5 L455.9 46.5 L458.1 46.5 L460.3 46.6 L460.4 46.6 L462.5 46.6 L464.7 46.6 L466.9 46.7 L469.0 46.7 L471.2 46.7 L471.4 46.7 L473.4 46.8 L475.6 46.8 L477.8 46.8 L480.0 46.9 L482.2 46.9 L482.3 46.9 L484.4 46.9 L486.6 46.9 L488.8 47.0 L491.0 47.0 L493.2 47.0 L493.2 47.0 L495.4 47.0 L497.6 47.0 L499.7 47.1 L501.9 47.1 L504.1 47.1 L504.2 47.1 L506.3 47.1 L508.5 47.1 L510.7 47.1 L512.9 47.1 L515.1 47.1 L515.1 47.1 L517.3 47.1 L519.5 47.2 L521.7 47.2 L523.9 47.2 L526.0 47.2 L526.1 47.2 L528.2 47.1 L530.4 47.1 L532.6 47.1 L534.8 47.1 L537.0 47.1"/>
<path class="c" stroke="#8c3040" d="M51.6 297.0 L52.2 314.0 L52.9 327.3 L53.0 328.4 L53.1 329.3 L53.2 329.7 L53.3 330.1 L53.5 330.8 L53.7 331.2 L53.8 331.3 L54.1 331.7 L54.5 332.0 L54.6 332.0 L54.9 332.1 L55.3 332.2 L55.7 332.2 L55.7 332.2 L56.2 332.2 L56.6 332.1 L56.9 332.0 L57.1 331.9 L57.6 331.7 L58.1 331.5 L58.3 331.4 L58.6 331.2 L59.2 331.0 L59.7 330.7 L59.8 330.6 L60.5 330.3 L61.2 329.9 L61.3 329.8 L62.0 329.4 L62.7 329.0 L62.8 328.9 L63.5 328.6 L64.2 328.1 L64.4 328.0 L65.0 327.6 L65.7 327.1 L65.9 327.0 L66.5 326.6 L67.3 326.0 L67.4 325.9 L68.2 325.3 L68.8 324.8 L69.0 324.7 L69.8 324.0 L70.2 323.6 L70.6 323.3 L71.3 322.6 L71.5 322.4 L72.1 321.8 L72.7 321.1 L72.7 321.0 L73.4 320.2 L73.7 319.8 L73.9 319.4 L74.5 318.6 L74.6 318.3 L75.0 317.7 L75.5 316.9 L75.5 316.8 L75.9 315.9 L76.2 315.4 L76.3 315.0 L76.7 314.1 L76.8 313.8 L77.0 313.1 L77.3 312.2 L77.3 312.1 L77.7 310.9 L77.8 310.6 L78.0 309.8 L78.2 308.9 L78.3 308.6 L78.5 307.3 L78.5 307.2 L78.7 306.1 L78.8 305.5 L78.9 304.9 L79.1 303.8 L79.1 303.7 L79.3 302.4 L79.4 302.1 L79.5 301.2 L79.6 300.4 L79.7 299.9 L79.9 298.7 L79.9 298.6 L80.1 297.2 L80.1 297.0 L80.3 295.9 L80.4 295.3 L80.5 294.6 L80.6 293.6 L80.7 293.3 L80.8 292.0 L80.9 291.9 L81.0 290.7 L81.1 290.1 L81.3 288.4 L81.4 288.1 L81.6 286.7 L81.8 285.0 L81.9 284.2 L82.0 283.3 L82.2 281.6 L82.4 280.3 L82.4 279.9 L82.6 278.2 L82.8 276.5 L82.8 276.4 L83.0 274.8 L83.2 273.1 L83.3 272.5 L83.4 271.3 L83.6 269.6 L83.7 268.6 L83.8 267.9 L84.0 266.2 L84.1 264.7 L84.1 264.5 L84.3 262.8 L84.5 261.1 L84.5 260.7 L84.6 259.4 L84.8 257.6 L84.8 256.8 L84.9 255.9 L85.1 254.2 L85.2 252.5 L85.3 251.4 L85.4 250.8 L85.5 249.1 L85.6 247.3 L85.8 245.6 L85.8 244.6 L85.9 243.9 L86.0 242.2 L86.1 240.4 L86.3 238.7 L86.3 237.9 L86.4 237.0 L86.5 235.3 L86.6 233.5 L86.7 231.8 L86.8 231.2 L86.8 230.1 L86.9 228.4 L87.0 226.6 L87.2 224.9 L87.2 224.4 L87.3 223.2 L87.4 221.5 L87.5 219.7 L87.6 218.0 L87.6 217.7 L87.7 216.3 L87.8 214.6 L87.9 212.8 L88.0 211.1 L88.1 211.0 L88.2 209.4 L88.3 207.6 L88.4 205.9 L88.5 204.2 L88.5 204.2 L88.6 202.5 L88.8 200.7 L88.9 199.0 L89.0 197.5 L89.0 197.3 L89.2 195.6 L89.3 193.9 L89.4 192.6 L89.5 192.1 L89.6 190.4 L89.7 188.9 L89.8 188.7 L89.9 187.0 L90.1 185.3 L90.1 185.2 L90.2 183.5 L90.4 181.8 L90.4 181.5 L90.6 180.1 L90.8 178.4 L90.8 177.8 L91.0 176.7 L91.2 175.0 L91.3 174.2 L91.4 173.3 L91.6 171.5 L91.7 170.5 L91.8 169.8 L92.0 168.1 L92.2 166.8 L92.2 166.4 L92.5 164.7 L92.7 163.1 L92.7 163.0 L93.0 161.3 L93.2 160.1 L93.2 159.6 L93.5 157.9 L93.6 157.4 L93.8 156.2 L94.1 154.6 L94.1 154.5 L94.4 152.8 L94.5 151.9 L94.7 151.2 L95.0 149.5 L95.0 149.1 L95.3 147.8 L95.6 146.4 L95.6 146.1 L96.0 144.4 L96.1 143.7 L96.3 142.7 L96.7 141.1 L96.7 141.0 L97.1 139.4 L97.3 138.3 L97.5 137.7 L97.8 136.3 L97.9 136.0 L98.2 134.6 L98.3 134.4 L98.6 132.9 L98.7 132.7 L99.1 131.2 L99.1 131.0 L99.5 129.6 L99.6 129.4 L100.0 127.9 L100.0 127.7 L100.5 126.2 L100.5 126.1 L100.9 124.5 L101.0 124.4 L101.5 122.9 L101.5 122.8 L102.0 121.1 L102.0 121.1 L102.5 119.5 L102.6 119.3 L103.0 117.8 L103.1 117.5 L103.6 116.2 L103.7 115.7 L104.2 114.5 L104.4 114.0 L104.7 112.9 L105.0 112.2 L105.3 111.3 L105.6 110.4 L105.9 109.6 L106.2 108.6 L106.5 108.0 L106.9 106.9 L107.1 106.4 L107.6 105.1 L107.7 104.8 L108.2 103.3 L108.3 103.1 L108.9 101.5 L108.9 101.5 L109.6 99.9 L109.6 99.7 L110.2 98.3 L110.3 98.0 L110.8 96.6 L111.0 96.2 L111.5 95.0 L111.7 94.4 L112.1 93.4 L112.4 92.6 L112.7 91.8 L113.1 90.9 L113.4 90.1 L113.7 89.3 L114.0 88.5 L114.4 87.7 L114.7 86.9 L115.0 86.1 L115.4 85.3 L115.7 84.6 L116.1 83.7 L116.3 83.0 L116.8 82.1 L117.0 81.5 L117.5 80.6 L117.8 80.0 L118.3 79.0 L118.5 78.5 L119.1 77.5 L119.4 77.1 L119.9 76.1 L120.1 75.8 L120.9 74.6 L120.9 74.5 L121.8 73.3 L121.8 73.2 L122.6 72.1 L122.8 71.8 L123.5 70.9 L123.8 70.5 L124.5 69.7 L124.9 69.2 L125.4 68.5 L126.0 67.9 L126.4 67.4 L127.1 66.6 L127.4 66.3 L128.2 65.5 L128.3 65.4 L129.1 64.6 L129.5 64.2 L130.0 63.7 L130.7 63.0 L130.9 62.9 L131.8 62.1 L132.0 61.9 L132.7 61.3 L133.3 60.8 L133.6 60.5 L134.6 59.7 L134.6 59.7 L135.5 58.9 L136.0 58.6 L136.4 58.3 L137.3 57.6 L137.4 57.5 L138.1 57.0 L138.8 56.5 L139.0 56.4 L139.9 55.7 L140.2 55.5 L140.8 55.1 L141.6 54.6 L141.7 54.5 L142.6 53.9 L143.1 53.6 L143.5 53.3 L144.2 52.9 L144.6 52.7 L145.0 52.4 L145.7 52.0 L146.1 51.8 L146.5 51.5 L147.2 51.1 L147.6 50.9 L148.0 50.7 L148.7 50.2 L149.1 50.0 L149.5 49.8 L150.3 49.4 L150.6 49.2 L151.1 48.9 L151.9 48.5 L152.2 48.3 L152.7 48.1 L153.5 47.7 L153.7 47.5 L154.3 47.3 L155.1 46.9 L155.3 46.8 L155.9 46.5 L156.7 46.1 L156.8 46.0 L157.8 45.6 L158.4 45.3 L159.3 44.9 L160.0 44.5 L160.8 44.2 L161.6 43.8 L162.3 43.6 L163.2 43.2 L163.8 42.9 L164.8 42.5 L165.3 42.3 L166.5 41.9 L166.9 41.8 L168.1 41.3 L168.4 41.2 L169.7 40.7 L170.0 40.7 L171.3 40.2 L171.4 40.2 L172.3 39.9 L173.0 39.7 L173.3 39.6 L174.4 39.3 L174.7 39.2 L175.4 39.0 L176.3 38.8 L176.4 38.7 L177.5 38.5 L178.0 38.3 L178.5 38.2 L179.5 38.0 L179.7 37.9 L180.6 37.7 L181.3 37.6 L181.7 37.5 L182.8 37.3 L183.0 37.3 L183.9 37.1 L184.7 37.0 L185.1 36.9 L186.2 36.7 L186.4 36.7 L187.3 36.5 L188.1 36.4 L188.4 36.4 L189.5 36.2 L189.7 36.2 L191.0 36.1 L191.4 36.0 L192.6 35.9 L193.1 35.9 L194.3 35.8 L194.8 35.7 L195.9 35.7 L196.5 35.6 L197.6 35.6 L198.2 35.5 L199.3 35.5 L199.9 35.5 L200.9 35.5 L201.6 35.4 L202.6 35.4 L203.3 35.4 L204.3 35.4 L205.1 35.4 L205.9 35.4 L206.8 35.5 L207.6 35.5 L208.5 35.5 L209.2 35.5 L210.2 35.6 L210.8 35.6 L211.9 35.7 L212.5 35.7 L213.6 35.8 L214.1 35.8 L215.4 35.9 L215.7 35.9 L217.1 36.0 L217.4 36.0 L218.8 36.2 L219.0 36.2 L220.5 36.3 L220.8 36.4 L222.2 36.5 L222.6 36.6 L224.0 36.7 L224.4 36.8 L225.7 36.9 L226.2 37.0 L227.4 37.1 L228.0 37.2 L229.1 37.4 L229.8 37.5 L230.8 37.6 L231.6 37.7 L232.6 37.9 L233.4 38.0 L234.3 38.1 L235.2 38.3 L236.0 38.4 L236.8 38.5 L237.7 38.7 L238.5 38.8 L239.4 39.0 L240.1 39.1 L241.2 39.3 L241.7 39.4 L242.9 39.6 L243.4 39.6 L244.6 39.9 L245.0 39.9 L246.3 40.2 L246.6 40.2 L248.0 40.5 L248.3 40.5 L249.7 40.8 L249.9 40.8 L251.3 41.1 L251.4 41.1 L252.6 41.3 L253.1 41.4 L254.0 41.6 L254.8 41.7 L255.3 41.8 L256.5 42.1 L256.7 42.1 L258.0 42.3 L258.2 42.4 L259.3 42.6 L259.9 42.7 L260.7 42.8 L261.6 43.0 L262.0 43.1 L263.3 43.3 L263.3 43.3 L264.5 43.6 L265.0 43.6 L265.8 43.8 L266.6 43.9 L267.0 44.0 L268.3 44.2 L268.3 44.2 L269.6 44.5 L270.0 44.5 L270.8 44.7 L271.6 44.8 L272.1 44.9 L273.3 45.1 L274.8 45.0 L276.2 45.1 L277.3 45.1 L277.6 45.1 L279.0 45.2 L280.4 45.3 L281.2 45.3 L281.8 45.4 L283.2 45.4 L284.6 45.5 L285.0 45.5 L286.0 45.6 L287.4 45.7 L288.7 45.7 L288.9 45.7 L290.1 45.8 L291.4 45.9 L292.7 45.9 L292.8 45.9 L294.1 46.0 L295.4 46.1 L296.7 46.1 L296.7 46.1 L298.1 46.2 L299.4 46.3 L300.5 46.3 L301.2 46.4 L303.2 46.5 L304.4 46.5 L305.3 46.6 L307.3 46.7 L308.3 46.7 L309.4 46.8 L311.5 46.9 L312.1 46.9 L313.5 47.0 L315.6 47.1 L316.0 47.1 L317.6 47.2 L319.7 47.3 L319.9 47.3 L321.8 47.4 L323.8 47.5 L323.8 47.5 L325.9 47.6 L327.6 47.7 L327.9 47.7 L330.0 47.8 L331.5 47.9 L332.1 47.9 L334.1 48.0 L335.4 48.0 L336.2 48.1 L338.2 48.2 L339.3 48.2 L340.3 48.3 L342.4 48.4 L343.2 48.4 L344.4 48.5 L346.5 48.5 L347.0 48.6 L348.5 48.6 L350.6 48.7 L350.9 48.7 L352.7 48.8 L354.7 48.9 L354.8 48.9 L356.8 49.0 L358.7 49.1 L358.8 49.1 L362.5 49.3 L363.5 49.3 L366.4 49.4 L370.3 49.6 L371.8 49.7 L374.2 49.8 L378.0 49.9 L380.0 50.0 L381.9 50.1 L385.8 50.3 L388.2 50.4 L389.7 50.4 L393.5 50.6 L396.5 50.7 L397.4 50.7 L401.3 50.9 L404.7 51.0 L405.2 51.0 L409.0 51.2 L412.9 51.3 L412.9 51.3 L416.8 51.5 L420.7 51.6 L421.2 51.7 L424.6 51.8 L428.4 51.9 L429.4 52.0 L432.3 52.1 L436.2 52.2 L437.6 52.3 L440.1 52.4 L443.9 52.5 L447.1 52.6 L447.8 52.6 L451.7 52.8 L455.6 52.9 L457.1 53.0 L459.4 53.0 L463.3 53.2 L467.1 53.3 L467.2 53.3 L471.1 53.4 L475.0 53.6 L477.1 53.6 L478.8 53.7 L482.7 53.8 L486.6 53.9 L487.1 54.0 L490.5 54.1 L494.3 54.2 L497.1 54.3 L498.2 54.3 L502.1 54.4 L506.0 54.6 L507.0 54.6 L509.9 54.7 L513.7 54.8 L517.0 54.9 L517.6 54.9 L521.5 55.0 L525.4 55.2 L527.0 55.2 L529.2 55.3 L533.1 55.4 L537.0 55.5"/>
<path class="c" stroke="#9c9c38" d="M51.6 297.0 L52.2 314.0 L53.0 327.1 L53.1 328.3 L53.2 329.4 L53.4 330.2 L53.5 330.6 L53.6 330.9 L53.8 331.4 L54.1 331.8 L54.4 332.1 L54.4 332.1 L54.7 332.2 L55.1 332.3 L55.5 332.2 L55.9 332.1 L55.9 332.1 L56.4 331.9 L56.9 331.6 L57.4 331.3 L57.7 331.2 L57.9 331.0 L58.5 330.7 L59.1 330.3 L59.7 329.9 L59.9 329.9 L60.5 329.5 L61.4 329.0 L62.2 328.6 L62.3 328.6 L63.1 328.2 L64.0 327.7 L64.7 327.4 L64.9 327.3 L65.7 326.8 L66.5 326.3 L66.9 326.1 L67.3 325.8 L68.0 325.3 L68.7 324.7 L68.8 324.5 L69.3 324.1 L69.9 323.4 L70.4 322.8 L70.4 322.8 L71.0 322.1 L71.4 321.4 L71.7 320.9 L71.9 320.6 L72.3 319.8 L72.7 318.9 L72.7 318.9 L73.1 318.0 L73.5 317.0 L73.6 316.8 L73.8 316.1 L74.1 315.1 L74.3 314.6 L74.4 314.1 L74.7 313.1 L74.9 312.3 L74.9 312.1 L75.2 311.0 L75.4 310.1 L75.5 309.9 L75.7 308.8 L76.0 307.8 L76.0 307.6 L76.2 306.5 L76.5 305.5 L76.5 305.4 L76.7 304.2 L76.9 303.3 L77.0 303.1 L77.2 302.0 L77.4 301.0 L77.4 300.7 L77.7 299.4 L77.8 298.7 L77.9 298.1 L78.1 296.8 L78.2 296.4 L78.3 295.5 L78.5 294.3 L78.6 294.1 L78.7 293.0 L78.9 291.8 L78.9 291.7 L79.1 290.4 L79.2 289.4 L79.6 287.1 L79.6 287.0 L79.8 284.8 L80.0 283.1 L80.1 282.5 L80.4 280.1 L80.5 279.2 L80.6 277.8 L80.8 275.5 L80.8 275.3 L81.0 273.1 L81.1 271.3 L81.2 270.8 L81.4 268.4 L81.4 267.4 L81.5 266.1 L81.7 263.7 L81.7 263.5 L81.8 261.3 L81.9 259.5 L81.9 259.0 L82.0 256.6 L82.1 255.6 L82.1 254.2 L82.2 251.9 L82.3 249.5 L82.4 249.0 L82.4 247.1 L82.5 244.8 L82.6 242.4 L82.6 242.2 L82.7 240.0 L82.7 237.6 L82.8 235.4 L82.8 235.3 L82.9 232.9 L82.9 230.5 L83.0 228.6 L83.0 228.1 L83.1 225.7 L83.2 223.4 L83.2 221.7 L83.2 221.0 L83.3 218.6 L83.4 216.3 L83.5 214.9 L83.5 213.9 L83.6 211.5 L83.7 209.1 L83.8 208.1 L83.9 206.8 L84.0 204.4 L84.1 202.1 L84.2 201.4 L84.3 199.7 L84.5 197.3 L84.7 195.0 L84.7 194.7 L84.9 192.6 L85.0 191.0 L85.1 190.3 L85.3 188.0 L85.4 187.2 L85.5 185.6 L85.8 183.5 L85.8 183.3 L86.1 180.9 L86.2 179.8 L86.3 178.6 L86.6 176.3 L86.7 176.1 L86.9 173.9 L87.1 172.4 L87.3 171.6 L87.6 169.3 L87.7 168.8 L87.9 167.0 L88.2 165.1 L88.3 164.7 L88.7 162.3 L88.8 161.5 L89.0 160.0 L89.2 158.8 L89.4 157.7 L89.7 156.1 L89.8 155.4 L90.2 153.4 L90.2 153.1 L90.6 150.8 L90.7 150.6 L91.1 148.5 L91.2 147.9 L91.5 146.2 L91.7 145.2 L91.9 143.9 L92.2 142.5 L92.4 141.6 L92.8 139.7 L92.9 139.3 L93.3 137.3 L93.3 137.0 L93.6 135.6 L93.8 134.7 L94.0 133.9 L94.3 132.4 L94.3 132.2 L94.7 130.5 L94.8 130.0 L95.0 128.8 L95.3 127.7 L95.4 127.1 L95.8 125.4 L95.8 125.4 L96.2 123.7 L96.3 123.1 L96.5 122.0 L96.8 120.8 L96.9 120.2 L97.3 118.5 L97.3 118.4 L97.8 116.6 L97.8 116.2 L98.2 114.9 L98.4 113.9 L98.6 113.1 L98.9 111.6 L99.0 111.3 L99.4 109.5 L99.5 109.3 L99.8 107.7 L100.0 107.0 L100.3 105.9 L100.6 104.7 L100.7 104.1 L101.1 102.4 L101.1 102.3 L101.6 100.5 L101.7 100.1 L102.0 98.7 L102.2 97.8 L102.4 96.9 L102.8 95.5 L102.9 95.1 L103.3 93.3 L103.3 93.2 L103.8 91.5 L103.9 90.9 L104.1 90.0 L104.5 88.7 L104.5 88.6 L104.8 87.4 L105.1 86.3 L105.1 86.1 L105.4 84.8 L105.6 83.9 L105.7 83.5 L106.1 82.2 L106.2 81.6 L106.4 81.0 L106.8 79.7 L106.8 79.3 L107.1 78.4 L107.4 77.2 L107.5 77.1 L107.8 76.0 L108.1 74.8 L108.1 74.7 L108.5 73.5 L108.8 72.5 L108.9 72.3 L109.3 71.1 L109.5 70.3 L109.7 69.9 L110.1 68.7 L110.3 68.0 L110.6 67.2 L111.1 65.8 L111.1 65.8 L111.6 64.3 L111.9 63.6 L112.2 62.8 L112.8 61.5 L112.8 61.4 L113.4 60.0 L113.7 59.3 L114.0 58.5 L114.7 57.2 L114.7 57.1 L115.4 55.7 L115.7 55.1 L115.8 54.8 L116.3 54.0 L116.7 53.2 L116.8 53.1 L117.2 52.3 L117.7 51.5 L117.9 51.0 L118.2 50.7 L118.7 49.8 L119.2 49.1 L119.2 49.0 L119.7 48.2 L120.2 47.5 L120.5 47.1 L120.6 46.8 L121.1 46.1 L121.6 45.5 L121.8 45.2 L122.1 44.8 L122.7 44.1 L123.2 43.4 L123.2 43.3 L123.7 42.8 L124.3 42.1 L124.7 41.5 L124.9 41.3 L125.5 40.6 L126.2 39.9 L126.3 39.8 L126.8 39.2 L127.5 38.5 L127.9 38.0 L128.2 37.8 L128.8 37.1 L129.5 36.4 L129.6 36.4 L130.2 35.8 L131.0 35.1 L131.3 34.8 L131.7 34.4 L132.5 33.8 L133.1 33.2 L133.2 33.1 L134.0 32.5 L134.8 31.9 L135.0 31.7 L135.6 31.3 L136.4 30.7 L136.9 30.3 L137.1 30.1 L137.9 29.6 L138.6 29.1 L138.8 28.9 L139.4 28.5 L140.2 28.0 L140.8 27.7 L140.9 27.6 L141.7 27.1 L142.5 26.6 L142.8 26.4 L143.3 26.2 L144.0 25.7 L144.7 25.4 L144.9 25.3 L145.5 25.0 L146.2 24.6 L146.9 24.3 L147.0 24.2 L147.6 23.9 L148.3 23.6 L149.0 23.3 L149.1 23.2 L149.8 23.0 L150.5 22.6 L151.3 22.3 L151.3 22.3 L152.0 22.0 L152.8 21.7 L153.5 21.5 L153.6 21.5 L154.4 21.2 L155.1 20.9 L155.7 20.7 L155.9 20.7 L156.7 20.4 L158.0 20.1 L158.0 20.1 L159.5 19.7 L160.3 19.5 L161.1 19.3 L162.6 18.9 L162.6 18.9 L164.1 18.6 L164.9 18.5 L165.7 18.4 L167.2 18.1 L167.2 18.1 L168.8 17.9 L169.6 17.8 L170.4 17.7 L171.6 17.6 L171.9 17.5 L172.9 17.4 L174.1 17.3 L174.3 17.3 L175.4 17.3 L176.6 17.2 L176.7 17.2 L177.8 17.1 L179.0 17.1 L179.1 17.1 L180.3 17.1 L181.4 17.1 L181.6 17.1 L182.5 17.1 L183.5 17.1 L183.8 17.1 L184.4 17.1 L185.4 17.2 L186.2 17.2 L186.3 17.2 L187.3 17.2 L188.2 17.3 L188.5 17.3 L189.2 17.4 L190.1 17.4 L190.8 17.5 L190.9 17.5 L191.4 17.5 L192.1 17.6 L192.7 17.7 L193.2 17.7 L193.4 17.7 L194.0 17.8 L194.7 17.9 L195.3 17.9 L195.6 18.0 L196.2 18.0 L197.9 18.2 L198.0 18.2 L199.8 18.5 L200.2 18.5 L201.6 18.7 L202.6 18.8 L203.3 18.9 L204.9 19.2 L205.1 19.2 L206.9 19.4 L207.2 19.5 L208.7 19.7 L209.6 19.8 L210.5 19.9 L211.9 20.1 L212.2 20.1 L214.0 20.3 L214.2 20.4 L215.8 20.5 L216.6 20.6 L217.6 20.7 L218.9 20.9 L219.3 20.9 L221.1 21.1 L221.2 21.1 L222.9 21.2 L223.6 21.3 L224.7 21.4 L225.9 21.5 L226.5 21.5 L228.3 21.6 L228.6 21.7 L230.6 21.8 L231.1 21.8 L233.0 22.0 L233.6 22.0 L235.3 22.1 L236.1 22.2 L237.7 22.2 L238.7 22.3 L240.0 22.4 L241.2 22.4 L242.4 22.5 L243.8 22.6 L244.8 22.6 L246.3 22.7 L247.1 22.7 L248.8 22.8 L249.5 22.8 L251.8 22.9 L252.4 23.0 L254.2 23.0 L256.5 23.2 L256.9 23.2 L258.9 23.3 L261.3 23.4 L261.4 23.4 L263.6 23.5 L266.0 23.6 L266.0 23.6 L268.3 23.7 L270.5 23.8 L270.7 23.8 L273.0 23.9 L275.0 24.0 L275.4 24.0 L277.8 24.1 L279.5 24.1 L280.1 24.2 L282.5 24.3 L284.0 24.3 L284.8 24.4 L287.2 24.5 L288.5 24.5 L289.5 24.5 L291.9 24.6 L293.7 24.7 L294.3 24.7 L296.6 24.8 L299.0 24.9 L299.3 24.9 L301.3 25.0 L303.7 25.1 L305.0 25.1 L306.0 25.2 L308.4 25.3 L310.6 25.3 L310.8 25.4 L313.1 25.4 L315.5 25.5 L316.2 25.6 L317.8 25.6 L320.2 25.7 L321.8 25.8 L322.5 25.8 L324.9 25.9 L327.3 25.9 L327.5 25.9 L329.6 26.0 L332.0 26.1 L333.1 26.1 L334.3 26.2 L336.7 26.3 L338.7 26.3 L339.0 26.3 L341.4 26.4 L343.8 26.5 L346.1 26.6 L348.5 26.7 L348.7 26.7 L350.8 26.7 L353.2 26.8 L355.5 26.9 L357.9 27.0 L359.9 27.0 L360.3 27.0 L362.6 27.1 L365.0 27.2 L367.3 27.3 L369.7 27.3 L371.2 27.4 L372.0 27.4 L374.4 27.5 L376.7 27.6 L379.1 27.6 L381.5 27.7 L382.4 27.7 L383.8 27.8 L386.2 27.9 L388.5 27.9 L390.9 28.0 L393.2 28.1 L393.7 28.1 L395.6 28.2 L398.0 28.2 L400.3 28.3 L402.7 28.4 L405.0 28.4 L405.0 28.4 L407.4 28.5 L409.7 28.6 L412.1 28.7 L414.4 28.7 L416.2 28.8 L416.8 28.8 L419.2 28.9 L421.5 29.0 L423.9 29.0 L426.2 29.1 L427.5 29.1 L428.6 29.2 L430.9 29.2 L433.3 29.3 L435.7 29.4 L438.0 29.5 L438.7 29.5 L440.4 29.5 L442.7 29.6 L445.1 29.7 L447.4 29.8 L449.7 29.8 L449.8 29.8 L452.2 29.9 L454.5 30.0 L456.9 30.1 L459.2 30.1 L460.6 30.2 L461.6 30.2 L463.9 30.3 L466.3 30.4 L468.6 30.4 L471.0 30.5 L471.5 30.5 L473.4 30.6 L475.7 30.7 L478.1 30.8 L480.4 30.8 L482.4 30.9 L482.8 30.9 L485.1 31.0 L487.5 31.1 L489.9 31.2 L492.2 31.2 L493.3 31.3 L494.6 31.3 L496.9 31.4 L499.3 31.5 L501.6 31.6 L504.0 31.7 L504.2 31.7 L506.4 31.8 L508.7 31.8 L511.1 31.9 L513.4 32.0 L515.2 32.1 L515.8 32.1 L518.1 32.2 L520.5 32.3 L522.9 32.4 L525.2 32.5 L526.1 32.5 L527.6 32.6 L529.9 32.7 L532.3 32.7 L534.6 32.8 L537.0 32.9"/>
<path class="c" stroke="#5c8cb0" d="M51.6 297.0 L52.2 314.0 L52.9 327.3 L53.0 328.2 L53.2 328.9 L53.4 329.5 L53.6 330.0 L53.7 330.2 L53.9 330.5 L54.2 330.8 L54.6 331.0 L54.9 331.2 L55.1 331.2 L55.3 331.2 L55.7 331.3 L56.2 331.2 L56.6 331.1 L56.9 331.0 L57.1 330.9 L57.6 330.7 L58.2 330.5 L58.7 330.2 L59.0 330.1 L59.2 330.0 L59.8 329.6 L60.6 329.2 L61.3 328.8 L61.3 328.8 L62.1 328.4 L62.8 327.9 L63.6 327.5 L63.6 327.5 L64.3 327.0 L65.1 326.5 L65.8 326.0 L65.9 326.0 L66.5 325.5 L67.3 324.9 L68.0 324.4 L68.1 324.4 L68.9 323.8 L69.6 323.1 L70.1 322.7 L70.3 322.5 L71.0 321.8 L71.7 321.2 L71.9 320.9 L72.3 320.5 L72.9 319.7 L73.5 318.9 L73.5 318.9 L74.1 318.0 L74.6 317.1 L74.8 316.8 L75.1 316.2 L75.6 315.3 L75.9 314.6 L76.0 314.3 L76.4 313.4 L76.8 312.4 L76.8 312.2 L77.1 311.4 L77.4 310.3 L77.5 309.8 L77.7 309.2 L78.0 308.0 L78.1 307.4 L78.2 306.9 L78.4 305.8 L78.6 304.9 L78.6 304.6 L78.8 303.5 L79.0 302.3 L79.0 302.3 L79.2 301.0 L79.4 299.8 L79.4 299.7 L79.6 298.4 L79.7 297.3 L79.7 297.1 L79.9 295.8 L80.0 294.7 L80.1 294.5 L80.2 293.2 L80.3 292.2 L80.4 291.8 L80.5 290.5 L80.6 289.6 L80.8 287.4 L80.8 287.0 L81.1 284.5 L81.2 283.5 L81.3 281.9 L81.5 279.5 L81.5 279.3 L81.6 276.8 L81.7 275.6 L81.8 274.2 L82.0 271.6 L82.0 271.6 L82.1 269.0 L82.2 267.6 L82.2 266.5 L82.4 263.9 L82.4 263.7 L82.5 261.3 L82.6 259.7 L82.6 258.7 L82.8 256.2 L82.8 255.7 L82.9 253.6 L83.0 251.0 L83.1 249.6 L83.1 248.4 L83.3 245.9 L83.4 243.3 L83.5 242.8 L83.6 240.8 L83.7 238.2 L83.9 236.1 L83.9 235.6 L84.0 233.1 L84.2 230.5 L84.3 229.4 L84.4 228.0 L84.5 225.4 L84.7 222.9 L84.7 222.6 L84.9 220.3 L85.1 217.8 L85.3 215.9 L85.3 215.2 L85.5 212.7 L85.7 210.1 L85.8 209.2 L85.9 207.6 L86.2 205.1 L86.4 202.5 L86.4 202.5 L86.7 200.0 L86.9 197.4 L87.1 195.9 L87.2 194.9 L87.4 192.4 L87.5 191.8 L87.7 189.8 L87.9 188.1 L88.0 187.3 L88.3 184.8 L88.3 184.4 L88.6 182.2 L88.8 180.7 L88.9 179.7 L89.2 177.2 L89.3 177.0 L89.6 174.7 L89.8 173.3 L89.9 172.1 L90.3 169.7 L90.3 169.6 L90.7 167.1 L90.8 166.0 L91.0 164.6 L91.4 162.3 L91.4 162.0 L91.8 159.5 L91.8 159.5 L92.3 157.0 L92.3 156.8 L92.7 154.5 L92.8 154.0 L93.1 151.9 L93.2 151.3 L93.6 149.4 L93.7 148.5 L94.0 146.9 L94.3 145.8 L94.5 144.4 L94.8 143.0 L95.0 141.9 L95.3 140.3 L95.5 139.3 L95.9 137.6 L96.1 136.8 L96.3 135.9 L96.6 134.3 L96.6 134.2 L97.0 132.5 L97.1 131.8 L97.4 130.8 L97.7 129.3 L97.8 129.1 L98.2 127.4 L98.3 126.8 L98.6 125.7 L98.9 124.2 L99.0 123.9 L99.4 122.2 L99.5 121.7 L99.8 120.4 L100.1 119.2 L100.3 118.6 L100.8 116.8 L100.8 116.7 L101.2 114.9 L101.4 114.2 L101.7 113.1 L102.1 111.7 L102.2 111.3 L102.8 109.5 L102.9 109.2 L103.3 107.7 L103.6 106.7 L103.9 105.9 L104.4 104.3 L104.5 104.1 L105.1 102.3 L105.2 101.8 L105.7 100.5 L106.1 99.4 L106.3 98.7 L107.0 97.0 L107.0 97.0 L107.7 95.2 L107.9 94.6 L108.4 93.5 L108.9 92.2 L109.2 91.7 L109.8 90.3 L110.0 89.9 L110.2 89.3 L110.7 88.4 L111.1 87.6 L111.2 87.5 L111.6 86.5 L112.1 85.6 L112.2 85.4 L112.6 84.7 L113.1 83.8 L113.4 83.1 L113.6 82.9 L114.1 81.9 L114.7 80.9 L114.8 80.8 L115.4 79.8 L116.0 78.8 L116.1 78.8 L116.7 77.7 L117.4 76.7 L117.4 76.7 L118.1 75.7 L118.8 74.7 L118.9 74.6 L119.6 73.7 L120.3 72.7 L120.4 72.6 L121.2 71.7 L122.0 70.6 L122.0 70.6 L122.9 69.6 L123.7 68.7 L123.8 68.6 L124.7 67.7 L125.5 66.9 L125.6 66.7 L126.6 65.8 L127.3 65.1 L127.6 64.8 L128.4 64.0 L129.2 63.4 L129.3 63.3 L130.1 62.6 L130.9 61.9 L131.1 61.7 L131.8 61.2 L132.6 60.5 L133.1 60.1 L133.5 59.8 L134.4 59.2 L135.2 58.6 L135.3 58.6 L136.2 58.0 L137.0 57.5 L137.3 57.2 L137.9 56.9 L138.7 56.4 L139.5 55.9 L139.6 55.9 L140.4 55.4 L141.3 54.9 L141.8 54.7 L142.2 54.5 L143.1 54.0 L143.9 53.7 L144.1 53.6 L144.6 53.4 L145.3 53.0 L146.0 52.7 L146.4 52.6 L146.8 52.4 L147.5 52.1 L148.3 51.9 L148.8 51.7 L149.0 51.6 L149.8 51.3 L150.6 51.1 L151.3 50.9 L151.3 50.8 L152.1 50.6 L152.9 50.4 L153.7 50.2 L153.8 50.2 L154.5 50.0 L155.3 49.8 L156.1 49.6 L156.3 49.6 L157.0 49.4 L158.5 49.1 L158.8 49.1 L160.1 48.8 L161.4 48.6 L161.7 48.5 L163.3 48.3 L164.0 48.1 L164.8 48.0 L166.4 47.7 L166.5 47.7 L168.0 47.5 L169.1 47.3 L169.5 47.2 L171.1 47.0 L171.7 46.9 L172.3 46.7 L173.6 46.5 L174.2 46.4 L174.8 46.3 L176.1 46.1 L176.7 46.0 L177.3 46.0 L178.6 45.8 L179.2 45.8 L179.8 45.7 L181.0 45.7 L181.7 45.7 L182.3 45.7 L183.9 45.8 L184.2 45.8 L185.4 45.9 L186.7 46.1 L186.9 46.1 L188.5 46.4 L189.2 46.6 L190.0 46.7 L191.6 47.1 L191.7 47.1 L193.1 47.5 L194.2 47.7 L194.6 47.8 L196.3 48.2 L196.7 48.3 L198.1 48.6 L199.2 48.9 L199.9 49.1 L201.7 49.4 L201.8 49.5 L203.5 49.8 L204.3 50.0 L205.3 50.2 L206.8 50.5 L207.1 50.5 L208.9 50.9 L209.3 50.9 L210.7 51.2 L211.9 51.4 L212.5 51.5 L214.3 51.8 L214.4 51.8 L216.0 52.0 L217.0 52.2 L217.8 52.3 L219.5 52.5 L219.6 52.6 L221.3 52.8 L222.0 52.9 L223.1 53.0 L224.6 53.2 L224.9 53.2 L226.7 53.5 L227.1 53.5 L228.8 53.7 L229.7 53.8 L231.3 54.0 L232.2 54.0 L233.9 54.2 L234.8 54.3 L236.4 54.4 L237.3 54.5 L238.9 54.6 L239.9 54.7 L241.4 54.8 L242.4 54.9 L244.0 55.0 L245.0 55.1 L246.5 55.2 L247.5 55.2 L249.0 55.3 L250.1 55.4 L252.6 55.5 L252.7 55.5 L255.2 55.7 L257.2 55.7 L257.7 55.8 L260.3 55.9 L261.7 55.9 L262.9 56.0 L265.4 56.1 L266.2 56.1 L268.0 56.1 L270.6 56.2 L270.7 56.2 L273.1 56.3 L275.2 56.3 L275.7 56.4 L278.2 56.4 L279.7 56.4 L280.8 56.5 L283.4 56.5 L284.2 56.6 L285.9 56.6 L288.5 56.6 L288.7 56.7 L291.1 56.7 L293.6 56.8 L294.0 56.8 L296.2 56.8 L298.7 56.9 L299.6 56.9 L301.3 57.0 L303.9 57.0 L305.2 57.0 L306.4 57.1 L309.0 57.1 L310.8 57.2 L311.6 57.2 L314.1 57.3 L316.5 57.3 L316.7 57.4 L319.2 57.4 L321.8 57.5 L322.1 57.5 L324.4 57.6 L326.9 57.6 L327.7 57.7 L329.5 57.7 L332.1 57.8 L333.3 57.8 L334.6 57.9 L337.2 58.0 L338.9 58.0 L339.7 58.0 L342.3 58.1 L344.9 58.2 L347.4 58.3 L349.1 58.3 L350.0 58.4 L352.6 58.4 L355.1 58.5 L357.7 58.6 L360.2 58.7 L360.3 58.7 L362.8 58.8 L365.4 58.9 L367.9 58.9 L370.5 59.0 L371.5 59.1 L373.0 59.1 L375.6 59.2 L378.2 59.3 L380.7 59.4 L382.8 59.4 L383.3 59.5 L385.9 59.6 L388.4 59.6 L391.0 59.7 L393.5 59.8 L394.0 59.8 L396.1 59.9 L398.7 60.0 L401.2 60.1 L403.8 60.2 L405.2 60.2 L406.3 60.3 L408.9 60.3 L411.5 60.4 L414.0 60.5 L416.5 60.6 L416.6 60.6 L419.2 60.7 L421.7 60.8 L424.3 60.9 L426.8 61.0 L427.7 61.0 L429.4 61.0 L432.0 61.1 L434.5 61.2 L437.1 61.3 L438.9 61.4 L439.6 61.4 L442.2 61.5 L444.8 61.5 L447.3 61.6 L449.8 61.7 L449.9 61.7 L452.4 61.8 L455.0 61.9 L457.6 62.0 L460.1 62.0 L460.7 62.1 L462.7 62.1 L465.3 62.2 L467.8 62.3 L470.4 62.3 L471.6 62.4 L472.9 62.4 L475.5 62.5 L478.1 62.6 L480.6 62.6 L482.5 62.7 L483.2 62.7 L485.7 62.8 L488.3 62.8 L490.9 62.9 L493.4 63.0 L493.4 63.0 L496.0 63.0 L498.6 63.1 L501.1 63.2 L503.7 63.2 L504.3 63.3 L506.2 63.3 L508.8 63.4 L511.4 63.4 L513.9 63.5 L515.2 63.5 L516.5 63.5 L519.1 63.6 L521.6 63.6 L524.2 63.7 L526.1 63.7 L526.7 63.7 L529.3 63.8 L531.9 63.8 L534.4 63.9 L537.0 63.9"/>
</g>
<rect class="ax" x="51.5" y="10.0" width="485.5" height="338.3"/>
<line class="ax" x1="51.5" y1="348.3" x2="51.5" y2="355.2"/>
<text class="tk" x="51.5" y="370.8" text-anchor="middle">0</text>
<line class="ax" x1="132.4" y1="348.3" x2="132.4" y2="355.2"/>
<text class="tk" x="132.4" y="370.8" text-anchor="middle">10</text>
<line class="ax" x1="213.3" y1="348.3" x2="213.3" y2="355.2"/>
<text class="tk" x="213.3" y="370.8" text-anchor="middle">20</text>
<line class="ax" x1="294.2" y1="348.3" x2="294.2" y2="355.2"/>
<text class="tk" x="294.2" y="370.8" text-anchor="middle">30</text>
<line class="ax" x1="375.2" y1="348.3" x2="375.2" y2="355.2"/>
<text class="tk" x="375.2" y="370.8" text-anchor="middle">40</text>
<line class="ax" x1="456.1" y1="348.3" x2="456.1" y2="355.2"/>
<text class="tk" x="456.1" y="370.8" text-anchor="middle">50</text>
<line class="ax" x1="537.0" y1="348.3" x2="537.0" y2="355.2"/>
<text class="tk" x="537.0" y="370.8" text-anchor="middle">60</text>
<line class="ax" x1="44.5" y1="348.3" x2="51.5" y2="348.3"/>
<text class="tk" x="39.6" y="352.6" text-anchor="end">0</text>
<line class="ax" x1="44.5" y1="235.5" x2="51.5" y2="235.5"/>
<text class="tk" x="39.6" y="239.8" text-anchor="end">5</text>
<line class="ax" x1="44.5" y1="122.8" x2="51.5" y2="122.8"/>
<text class="tk" x="39.6" y="127.1" text-anchor="end">10</text>
<line class="ax" x1="44.5" y1="10.0" x2="51.5" y2="10.0"/>
<text class="tk" x="39.6" y="14.3" text-anchor="end">15</text>
<text class="lb" x="295.3" y="390.4" text-anchor="middle">Time (min)</text>
<text class="lb" transform="translate(19.9 173.8) rotate(-90)" text-anchor="middle">Torque (dNm)</text>
<line x1="351.3" y1="147.7" x2="384.8" y2="147.7" stroke="#303030" stroke-width="1.5"/>
<text class="lg" x="389.8" y="152.5">EPDM</text>
<line x1="351.3" y1="166.3" x2="384.8" y2="166.3" stroke="#dc3c3c" stroke-width="1.5"/>
<text class="lg" x="389.8" y="171.1">EPDM/5SiC</text>
<line x1="351.3" y1="184.9" x2="384.8" y2="184.9" stroke="#2828d2" stroke-width="1.5"/>
<text class="lg" x="389.8" y="189.7">EPDM/10SiC</text>
<line x1="351.3" y1="203.5" x2="384.8" y2="203.5" stroke="#d846d8" stroke-width="1.5"/>
<text class="lg" x="389.8" y="208.3">EPDM/15SiC</text>
<line x1="351.3" y1="222.1" x2="384.8" y2="222.1" stroke="#2c8c46" stroke-width="1.5"/>
<text class="lg" x="389.8" y="226.9">EPDM/20SiC</text>
<line x1="351.3" y1="240.8" x2="384.8" y2="240.8" stroke="#38388c" stroke-width="1.5"/>
<text class="lg" x="389.8" y="245.6">EPDM/10SiC/5SiO</text>
<line x1="351.3" y1="259.4" x2="384.8" y2="259.4" stroke="#9050dc" stroke-width="1.5"/>
<text class="lg" x="389.8" y="264.2">EPDM/10SiC/5CB</text>
<line x1="351.3" y1="278.0" x2="384.8" y2="278.0" stroke="#a846b4" stroke-width="1.5"/>
<text class="lg" x="389.8" y="282.8">EPDM/10SiC/5XGnP</text>
<line x1="351.3" y1="296.6" x2="384.8" y2="296.6" stroke="#8c3040" stroke-width="1.5"/>
<text class="lg" x="389.8" y="301.4">EPDM/10SiC/5LDH</text>
<line x1="351.3" y1="315.2" x2="384.8" y2="315.2" stroke="#9c9c38" stroke-width="1.5"/>
<text class="lg" x="389.8" y="320.0">EPDM/10SiC/5HAL</text>
<line x1="351.3" y1="333.9" x2="384.8" y2="333.9" stroke="#5c8cb0" stroke-width="1.5"/>
<text class="lg" x="389.8" y="338.7">EPDM/10SiC/5PY119</text>
</svg></body></html>
